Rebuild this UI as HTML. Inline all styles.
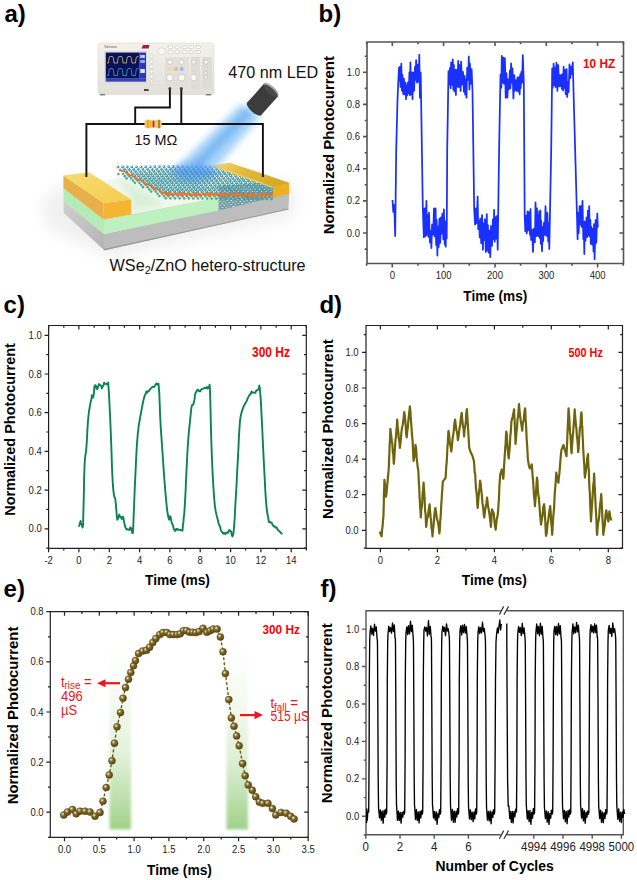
<!DOCTYPE html>
<html><head><meta charset="utf-8"><style>
html,body{margin:0;padding:0;background:#fff;}
svg{display:block;font-family:"Liberation Sans", sans-serif;}
</style></head><body>
<svg width="637" height="880" viewBox="0 0 637 880">
<rect width="637" height="880" fill="#fff"/>
<defs>
<filter id="blur1" x="-30%" y="-30%" width="160%" height="160%"><feGaussianBlur stdDeviation="1"/></filter>
<filter id="blur3" x="-50%" y="-50%" width="200%" height="200%"><feGaussianBlur stdDeviation="3.5"/></filter>
<filter id="blur6" x="-50%" y="-50%" width="200%" height="200%"><feGaussianBlur stdDeviation="7"/></filter>
<linearGradient id="beam" x1="1" y1="0" x2="0" y2="1">
<stop offset="0" stop-color="#4aa0f0" stop-opacity="0.95"/>
<stop offset="0.5" stop-color="#58a8f0" stop-opacity="0.75"/>
<stop offset="1" stop-color="#78c0f8" stop-opacity="0.35"/>
</linearGradient>
<pattern id="latt" width="4.2" height="3.6" patternUnits="userSpaceOnUse" patternTransform="matrix(1 -0.05 0.9 0.5 117 167)">
<rect width="4.2" height="3.6" fill="#8aa8b0"/>
<circle cx="1.1" cy="1" r="1.25" fill="#7fd8e8"/>
<circle cx="3.2" cy="2.8" r="1.25" fill="#5ab8d0"/>
</pattern>
<pattern id="latt2" width="3.6" height="3.2" patternUnits="userSpaceOnUse" patternTransform="matrix(1 -0.1 0.6 0.6 0 0)">
<rect width="3.6" height="3.2" fill="#7a8a90"/>
<circle cx="1" cy="1" r="1.1" fill="#5aa8b8"/>
<circle cx="2.8" cy="2.6" r="0.9" fill="#e8f4f4"/>
</pattern>
<pattern id="dust" width="3" height="3" patternUnits="userSpaceOnUse">
<rect width="3" height="3" fill="#eef8ee"/>
<circle cx="0.8" cy="0.8" r="0.6" fill="#9ed8a8"/>
<circle cx="2.2" cy="2.1" r="0.5" fill="#b8e4c0"/>
</pattern>
<pattern id="gtex" width="2" height="2" patternUnits="userSpaceOnUse">
<rect width="2" height="2" fill="#e2b830"/>
<rect width="1" height="1" fill="#d8a828"/>
</pattern>
<linearGradient id="goldtop" x1="0" y1="0" x2="1" y2="1">
<stop offset="0" stop-color="#f8dc70"/><stop offset="1" stop-color="#f4cc50"/>
</linearGradient>
<linearGradient id="grayL" x1="0" y1="0" x2="1" y2="1">
<stop offset="0" stop-color="#d0d0d0"/><stop offset="1" stop-color="#b4b4b4"/>
</linearGradient>
<linearGradient id="scope" x1="0" y1="0" x2="0" y2="1">
<stop offset="0" stop-color="#f2f1ec"/><stop offset="1" stop-color="#e2e0d8"/>
</linearGradient>
</defs>
<g id="pa">
<!-- shadow -->
<path d="M40 205 L62 182 L104 210 L290 180 L298 200 L292 218 L110 258 L48 228 Z" fill="#dcdcdc" opacity="0.4" filter="url(#blur6)"/>
<!-- gray base -->
<path d="M63.4 200.5 L104 234 L104 250 L63.8 213.1 Z" fill="url(#grayL)"/>
<path d="M104 234 L289.1 194 L288.4 209.4 L104 250 Z" fill="#bdbdbd"/>
<path d="M104 249 L288.4 208.6 L288.4 209.6 L104 250.4Z" fill="#9a9a9a"/>
<!-- green layer -->
<path d="M63.4 188.3 L104 219.3 L104 234 L63.4 200.5 Z" fill="#b4ecb8"/>
<path d="M104 219.3 L218.5 197.3 L218.5 210.6 L104 234 Z" fill="#bef0c0"/>
<path d="M63.4 188.3 L177.9 166.3 L218.5 197.3 L104 219.3 Z" fill="#f2f8f0"/>
<path d="M116 176 L166 204 L132 211 L132 200 Z" fill="#cceccc" opacity="0.7" filter="url(#blur3)"/>
<!-- ZnO balls right part -->
<path d="M218.5 186 L272 182 L288 182 L288 194 L218.5 210.6 Z" fill="url(#latt2)"/>
<clipPath id="lclip"><path d="M108 160 L216 158 L213.7 165.3 L272.9 186.7 L275 212 L160 214 L106 182 Z"/></clipPath>
<g clip-path="url(#lclip)">
<g fill="#40a488" opacity="0.9"><circle cx="118.4" cy="174" r="1.35"/><circle cx="123" cy="174" r="1.35"/><circle cx="127.6" cy="174" r="1.35"/><circle cx="132.2" cy="173.9" r="1.35"/><circle cx="136.8" cy="173.9" r="1.35"/><circle cx="141.4" cy="173.9" r="1.35"/><circle cx="146" cy="173.9" r="1.35"/><circle cx="150.6" cy="173.9" r="1.35"/><circle cx="155.2" cy="173.8" r="1.35"/><circle cx="159.8" cy="173.8" r="1.35"/><circle cx="164.4" cy="173.8" r="1.35"/><circle cx="169" cy="173.8" r="1.35"/><circle cx="173.6" cy="173.8" r="1.35"/><circle cx="178.2" cy="173.7" r="1.35"/><circle cx="182.8" cy="173.7" r="1.35"/><circle cx="187.4" cy="173.7" r="1.35"/><circle cx="192" cy="173.7" r="1.35"/><circle cx="196.6" cy="173.7" r="1.35"/><circle cx="201.2" cy="173.6" r="1.35"/><circle cx="205.8" cy="173.6" r="1.35"/><circle cx="210.4" cy="173.6" r="1.35"/><circle cx="215" cy="173.6" r="1.35"/><circle cx="219.6" cy="173.6" r="1.35"/><circle cx="224.2" cy="173.5" r="1.35"/><circle cx="228.8" cy="173.5" r="1.35"/><circle cx="233.4" cy="173.5" r="1.35"/><circle cx="238" cy="173.5" r="1.35"/><circle cx="242.6" cy="173.5" r="1.35"/><circle cx="247.2" cy="173.4" r="1.35"/><circle cx="251.8" cy="173.4" r="1.35"/><circle cx="256.4" cy="173.4" r="1.35"/><circle cx="261" cy="173.4" r="1.35"/><circle cx="265.6" cy="173.4" r="1.35"/><circle cx="270.2" cy="173.3" r="1.35"/><circle cx="124.8" cy="176.2" r="1.35"/><circle cx="129.4" cy="176.2" r="1.35"/><circle cx="134" cy="176.2" r="1.35"/><circle cx="138.6" cy="176.1" r="1.35"/><circle cx="143.2" cy="176.1" r="1.35"/><circle cx="147.8" cy="176.1" r="1.35"/><circle cx="152.4" cy="176.1" r="1.35"/><circle cx="157" cy="176.1" r="1.35"/><circle cx="161.6" cy="176.1" r="1.35"/><circle cx="166.2" cy="176.1" r="1.35"/><circle cx="170.8" cy="176" r="1.35"/><circle cx="175.4" cy="176" r="1.35"/><circle cx="180" cy="176" r="1.35"/><circle cx="184.6" cy="176" r="1.35"/><circle cx="189.2" cy="176" r="1.35"/><circle cx="193.8" cy="176" r="1.35"/><circle cx="198.4" cy="176" r="1.35"/><circle cx="203" cy="175.9" r="1.35"/><circle cx="207.6" cy="175.9" r="1.35"/><circle cx="212.2" cy="175.9" r="1.35"/><circle cx="216.8" cy="175.9" r="1.35"/><circle cx="221.4" cy="175.9" r="1.35"/><circle cx="226" cy="175.9" r="1.35"/><circle cx="230.6" cy="175.9" r="1.35"/><circle cx="235.2" cy="175.8" r="1.35"/><circle cx="239.8" cy="175.8" r="1.35"/><circle cx="244.4" cy="175.8" r="1.35"/><circle cx="249" cy="175.8" r="1.35"/><circle cx="253.6" cy="175.8" r="1.35"/><circle cx="258.2" cy="175.8" r="1.35"/><circle cx="262.8" cy="175.8" r="1.35"/><circle cx="267.4" cy="175.7" r="1.35"/><circle cx="272" cy="175.7" r="1.35"/><circle cx="276.6" cy="175.7" r="1.35"/><circle cx="126.6" cy="178.4" r="1.35"/><circle cx="131.2" cy="178.4" r="1.35"/><circle cx="135.8" cy="178.4" r="1.35"/><circle cx="140.4" cy="178.4" r="1.35"/><circle cx="145" cy="178.4" r="1.35"/><circle cx="149.6" cy="178.4" r="1.35"/><circle cx="154.2" cy="178.3" r="1.35"/><circle cx="158.8" cy="178.3" r="1.35"/><circle cx="163.4" cy="178.3" r="1.35"/><circle cx="168" cy="178.3" r="1.35"/><circle cx="172.6" cy="178.3" r="1.35"/><circle cx="177.2" cy="178.3" r="1.35"/><circle cx="181.8" cy="178.3" r="1.35"/><circle cx="186.4" cy="178.3" r="1.35"/><circle cx="191" cy="178.3" r="1.35"/><circle cx="195.6" cy="178.3" r="1.35"/><circle cx="200.2" cy="178.3" r="1.35"/><circle cx="204.8" cy="178.2" r="1.35"/><circle cx="209.4" cy="178.2" r="1.35"/><circle cx="214" cy="178.2" r="1.35"/><circle cx="218.6" cy="178.2" r="1.35"/><circle cx="223.2" cy="178.2" r="1.35"/><circle cx="227.8" cy="178.2" r="1.35"/><circle cx="232.4" cy="178.2" r="1.35"/><circle cx="237" cy="178.2" r="1.35"/><circle cx="241.6" cy="178.2" r="1.35"/><circle cx="246.2" cy="178.2" r="1.35"/><circle cx="250.8" cy="178.2" r="1.35"/><circle cx="255.4" cy="178.1" r="1.35"/><circle cx="260" cy="178.1" r="1.35"/><circle cx="264.6" cy="178.1" r="1.35"/><circle cx="269.2" cy="178.1" r="1.35"/><circle cx="273.8" cy="178.1" r="1.35"/><circle cx="278.4" cy="178.1" r="1.35"/><circle cx="133" cy="180.6" r="1.35"/><circle cx="137.6" cy="180.6" r="1.35"/><circle cx="142.2" cy="180.6" r="1.35"/><circle cx="146.8" cy="180.6" r="1.35"/><circle cx="151.4" cy="180.6" r="1.35"/><circle cx="156" cy="180.6" r="1.35"/><circle cx="160.6" cy="180.6" r="1.35"/><circle cx="165.2" cy="180.6" r="1.35"/><circle cx="169.8" cy="180.6" r="1.35"/><circle cx="174.4" cy="180.6" r="1.35"/><circle cx="179" cy="180.6" r="1.35"/><circle cx="183.6" cy="180.6" r="1.35"/><circle cx="188.2" cy="180.6" r="1.35"/><circle cx="192.8" cy="180.6" r="1.35"/><circle cx="197.4" cy="180.5" r="1.35"/><circle cx="202" cy="180.5" r="1.35"/><circle cx="206.6" cy="180.5" r="1.35"/><circle cx="211.2" cy="180.5" r="1.35"/><circle cx="215.8" cy="180.5" r="1.35"/><circle cx="220.4" cy="180.5" r="1.35"/><circle cx="225" cy="180.5" r="1.35"/><circle cx="229.6" cy="180.5" r="1.35"/><circle cx="234.2" cy="180.5" r="1.35"/><circle cx="238.8" cy="180.5" r="1.35"/><circle cx="243.4" cy="180.5" r="1.35"/><circle cx="248" cy="180.5" r="1.35"/><circle cx="252.6" cy="180.5" r="1.35"/><circle cx="257.2" cy="180.5" r="1.35"/><circle cx="261.8" cy="180.5" r="1.35"/><circle cx="266.4" cy="180.5" r="1.35"/><circle cx="271" cy="180.5" r="1.35"/><circle cx="275.6" cy="180.5" r="1.35"/><circle cx="280.2" cy="180.5" r="1.35"/><circle cx="284.8" cy="180.5" r="1.35"/><circle cx="134.8" cy="182.8" r="1.35"/><circle cx="139.4" cy="182.8" r="1.35"/><circle cx="144" cy="182.8" r="1.35"/><circle cx="148.6" cy="182.8" r="1.35"/><circle cx="153.2" cy="182.8" r="1.35"/><circle cx="157.8" cy="182.8" r="1.35"/><circle cx="162.4" cy="182.8" r="1.35"/><circle cx="167" cy="182.8" r="1.35"/><circle cx="171.6" cy="182.8" r="1.35"/><circle cx="176.2" cy="182.8" r="1.35"/><circle cx="180.8" cy="182.8" r="1.35"/><circle cx="185.4" cy="182.8" r="1.35"/><circle cx="190" cy="182.8" r="1.35"/><circle cx="194.6" cy="182.8" r="1.35"/><circle cx="199.2" cy="182.8" r="1.35"/><circle cx="203.8" cy="182.8" r="1.35"/><circle cx="208.4" cy="182.8" r="1.35"/><circle cx="213" cy="182.8" r="1.35"/><circle cx="217.6" cy="182.8" r="1.35"/><circle cx="222.2" cy="182.8" r="1.35"/><circle cx="226.8" cy="182.8" r="1.35"/><circle cx="231.4" cy="182.8" r="1.35"/><circle cx="236" cy="182.8" r="1.35"/><circle cx="240.6" cy="182.8" r="1.35"/><circle cx="245.2" cy="182.8" r="1.35"/><circle cx="249.8" cy="182.8" r="1.35"/><circle cx="254.4" cy="182.8" r="1.35"/><circle cx="259" cy="182.8" r="1.35"/><circle cx="263.6" cy="182.9" r="1.35"/><circle cx="268.2" cy="182.9" r="1.35"/><circle cx="272.8" cy="182.9" r="1.35"/><circle cx="277.4" cy="182.9" r="1.35"/><circle cx="282" cy="182.9" r="1.35"/><circle cx="286.6" cy="182.9" r="1.35"/><circle cx="141.2" cy="185" r="1.35"/><circle cx="145.8" cy="185" r="1.35"/><circle cx="150.4" cy="185" r="1.35"/><circle cx="155" cy="185" r="1.35"/><circle cx="159.6" cy="185" r="1.35"/><circle cx="164.2" cy="185" r="1.35"/><circle cx="168.8" cy="185" r="1.35"/><circle cx="173.4" cy="185.1" r="1.35"/><circle cx="178" cy="185.1" r="1.35"/><circle cx="182.6" cy="185.1" r="1.35"/><circle cx="187.2" cy="185.1" r="1.35"/><circle cx="191.8" cy="185.1" r="1.35"/><circle cx="196.4" cy="185.1" r="1.35"/><circle cx="201" cy="185.1" r="1.35"/><circle cx="205.6" cy="185.1" r="1.35"/><circle cx="210.2" cy="185.1" r="1.35"/><circle cx="214.8" cy="185.1" r="1.35"/><circle cx="219.4" cy="185.1" r="1.35"/><circle cx="224" cy="185.1" r="1.35"/><circle cx="228.6" cy="185.1" r="1.35"/><circle cx="233.2" cy="185.1" r="1.35"/><circle cx="237.8" cy="185.2" r="1.35"/><circle cx="242.4" cy="185.2" r="1.35"/><circle cx="247" cy="185.2" r="1.35"/><circle cx="251.6" cy="185.2" r="1.35"/><circle cx="256.2" cy="185.2" r="1.35"/><circle cx="260.8" cy="185.2" r="1.35"/><circle cx="265.4" cy="185.2" r="1.35"/><circle cx="270" cy="185.2" r="1.35"/><circle cx="274.6" cy="185.2" r="1.35"/><circle cx="279.2" cy="185.2" r="1.35"/><circle cx="283.8" cy="185.2" r="1.35"/><circle cx="288.4" cy="185.2" r="1.35"/><circle cx="293" cy="185.2" r="1.35"/><circle cx="143" cy="187.2" r="1.35"/><circle cx="147.6" cy="187.2" r="1.35"/><circle cx="152.2" cy="187.2" r="1.35"/><circle cx="156.8" cy="187.2" r="1.35"/><circle cx="161.4" cy="187.3" r="1.35"/><circle cx="166" cy="187.3" r="1.35"/><circle cx="170.6" cy="187.3" r="1.35"/><circle cx="175.2" cy="187.3" r="1.35"/><circle cx="179.8" cy="187.3" r="1.35"/><circle cx="184.4" cy="187.3" r="1.35"/><circle cx="189" cy="187.3" r="1.35"/><circle cx="193.6" cy="187.3" r="1.35"/><circle cx="198.2" cy="187.4" r="1.35"/><circle cx="202.8" cy="187.4" r="1.35"/><circle cx="207.4" cy="187.4" r="1.35"/><circle cx="212" cy="187.4" r="1.35"/><circle cx="216.6" cy="187.4" r="1.35"/><circle cx="221.2" cy="187.4" r="1.35"/><circle cx="225.8" cy="187.4" r="1.35"/><circle cx="230.4" cy="187.4" r="1.35"/><circle cx="235" cy="187.5" r="1.35"/><circle cx="239.6" cy="187.5" r="1.35"/><circle cx="244.2" cy="187.5" r="1.35"/><circle cx="248.8" cy="187.5" r="1.35"/><circle cx="253.4" cy="187.5" r="1.35"/><circle cx="258" cy="187.5" r="1.35"/><circle cx="262.6" cy="187.5" r="1.35"/><circle cx="267.2" cy="187.5" r="1.35"/><circle cx="271.8" cy="187.6" r="1.35"/><circle cx="276.4" cy="187.6" r="1.35"/><circle cx="281" cy="187.6" r="1.35"/><circle cx="285.6" cy="187.6" r="1.35"/><circle cx="290.2" cy="187.6" r="1.35"/><circle cx="294.8" cy="187.6" r="1.35"/><circle cx="149.4" cy="189.4" r="1.35"/><circle cx="154" cy="189.4" r="1.35"/><circle cx="158.6" cy="189.4" r="1.35"/><circle cx="163.2" cy="189.5" r="1.35"/><circle cx="167.8" cy="189.5" r="1.35"/><circle cx="172.4" cy="189.5" r="1.35"/><circle cx="177" cy="189.5" r="1.35"/><circle cx="181.6" cy="189.5" r="1.35"/><circle cx="186.2" cy="189.6" r="1.35"/><circle cx="190.8" cy="189.6" r="1.35"/><circle cx="195.4" cy="189.6" r="1.35"/><circle cx="200" cy="189.6" r="1.35"/><circle cx="204.6" cy="189.6" r="1.35"/><circle cx="209.2" cy="189.6" r="1.35"/><circle cx="213.8" cy="189.7" r="1.35"/><circle cx="218.4" cy="189.7" r="1.35"/><circle cx="223" cy="189.7" r="1.35"/><circle cx="227.6" cy="189.7" r="1.35"/><circle cx="232.2" cy="189.7" r="1.35"/><circle cx="236.8" cy="189.8" r="1.35"/><circle cx="241.4" cy="189.8" r="1.35"/><circle cx="246" cy="189.8" r="1.35"/><circle cx="250.6" cy="189.8" r="1.35"/><circle cx="255.2" cy="189.8" r="1.35"/><circle cx="259.8" cy="189.8" r="1.35"/><circle cx="264.4" cy="189.9" r="1.35"/><circle cx="269" cy="189.9" r="1.35"/><circle cx="273.6" cy="189.9" r="1.35"/><circle cx="278.2" cy="189.9" r="1.35"/><circle cx="282.8" cy="189.9" r="1.35"/><circle cx="287.4" cy="190" r="1.35"/><circle cx="292" cy="190" r="1.35"/><circle cx="296.6" cy="190" r="1.35"/><circle cx="301.2" cy="190" r="1.35"/><circle cx="151.2" cy="191.6" r="1.35"/><circle cx="155.8" cy="191.6" r="1.35"/><circle cx="160.4" cy="191.6" r="1.35"/><circle cx="165" cy="191.7" r="1.35"/><circle cx="169.6" cy="191.7" r="1.35"/><circle cx="174.2" cy="191.7" r="1.35"/><circle cx="178.8" cy="191.7" r="1.35"/><circle cx="183.4" cy="191.8" r="1.35"/><circle cx="188" cy="191.8" r="1.35"/><circle cx="192.6" cy="191.8" r="1.35"/><circle cx="197.2" cy="191.8" r="1.35"/><circle cx="201.8" cy="191.9" r="1.35"/><circle cx="206.4" cy="191.9" r="1.35"/><circle cx="211" cy="191.9" r="1.35"/><circle cx="215.6" cy="191.9" r="1.35"/><circle cx="220.2" cy="192" r="1.35"/><circle cx="224.8" cy="192" r="1.35"/><circle cx="229.4" cy="192" r="1.35"/><circle cx="234" cy="192" r="1.35"/><circle cx="238.6" cy="192" r="1.35"/><circle cx="243.2" cy="192.1" r="1.35"/><circle cx="247.8" cy="192.1" r="1.35"/><circle cx="252.4" cy="192.1" r="1.35"/><circle cx="257" cy="192.1" r="1.35"/><circle cx="261.6" cy="192.2" r="1.35"/><circle cx="266.2" cy="192.2" r="1.35"/><circle cx="270.8" cy="192.2" r="1.35"/><circle cx="275.4" cy="192.2" r="1.35"/><circle cx="280" cy="192.3" r="1.35"/><circle cx="284.6" cy="192.3" r="1.35"/><circle cx="289.2" cy="192.3" r="1.35"/><circle cx="293.8" cy="192.3" r="1.35"/><circle cx="298.4" cy="192.4" r="1.35"/><circle cx="303" cy="192.4" r="1.35"/><circle cx="157.6" cy="193.8" r="1.35"/><circle cx="162.2" cy="193.8" r="1.35"/><circle cx="166.8" cy="193.9" r="1.35"/><circle cx="171.4" cy="193.9" r="1.35"/><circle cx="176" cy="193.9" r="1.35"/><circle cx="180.6" cy="194" r="1.35"/><circle cx="185.2" cy="194" r="1.35"/><circle cx="189.8" cy="194" r="1.35"/><circle cx="194.4" cy="194" r="1.35"/><circle cx="199" cy="194.1" r="1.35"/><circle cx="203.6" cy="194.1" r="1.35"/><circle cx="208.2" cy="194.1" r="1.35"/><circle cx="212.8" cy="194.2" r="1.35"/><circle cx="217.4" cy="194.2" r="1.35"/><circle cx="222" cy="194.2" r="1.35"/><circle cx="226.6" cy="194.3" r="1.35"/><circle cx="231.2" cy="194.3" r="1.35"/><circle cx="235.8" cy="194.3" r="1.35"/><circle cx="240.4" cy="194.3" r="1.35"/><circle cx="245" cy="194.4" r="1.35"/><circle cx="249.6" cy="194.4" r="1.35"/><circle cx="254.2" cy="194.4" r="1.35"/><circle cx="258.8" cy="194.5" r="1.35"/><circle cx="263.4" cy="194.5" r="1.35"/><circle cx="268" cy="194.5" r="1.35"/><circle cx="272.6" cy="194.5" r="1.35"/><circle cx="277.2" cy="194.6" r="1.35"/><circle cx="281.8" cy="194.6" r="1.35"/><circle cx="286.4" cy="194.6" r="1.35"/><circle cx="291" cy="194.7" r="1.35"/><circle cx="295.6" cy="194.7" r="1.35"/><circle cx="300.2" cy="194.7" r="1.35"/><circle cx="304.8" cy="194.7" r="1.35"/><circle cx="309.4" cy="194.8" r="1.35"/><circle cx="159.4" cy="196" r="1.35"/><circle cx="164" cy="196" r="1.35"/><circle cx="168.6" cy="196.1" r="1.35"/><circle cx="173.2" cy="196.1" r="1.35"/><circle cx="177.8" cy="196.1" r="1.35"/><circle cx="182.4" cy="196.2" r="1.35"/><circle cx="187" cy="196.2" r="1.35"/><circle cx="191.6" cy="196.2" r="1.35"/><circle cx="196.2" cy="196.3" r="1.35"/><circle cx="200.8" cy="196.3" r="1.35"/><circle cx="205.4" cy="196.3" r="1.35"/><circle cx="210" cy="196.4" r="1.35"/><circle cx="214.6" cy="196.4" r="1.35"/><circle cx="219.2" cy="196.4" r="1.35"/><circle cx="223.8" cy="196.5" r="1.35"/><circle cx="228.4" cy="196.5" r="1.35"/><circle cx="233" cy="196.6" r="1.35"/><circle cx="237.6" cy="196.6" r="1.35"/><circle cx="242.2" cy="196.6" r="1.35"/><circle cx="246.8" cy="196.7" r="1.35"/><circle cx="251.4" cy="196.7" r="1.35"/><circle cx="256" cy="196.7" r="1.35"/><circle cx="260.6" cy="196.8" r="1.35"/><circle cx="265.2" cy="196.8" r="1.35"/><circle cx="269.8" cy="196.8" r="1.35"/><circle cx="274.4" cy="196.9" r="1.35"/><circle cx="279" cy="196.9" r="1.35"/><circle cx="283.6" cy="196.9" r="1.35"/><circle cx="288.2" cy="197" r="1.35"/><circle cx="292.8" cy="197" r="1.35"/><circle cx="297.4" cy="197" r="1.35"/><circle cx="302" cy="197.1" r="1.35"/><circle cx="306.6" cy="197.1" r="1.35"/><circle cx="311.2" cy="197.1" r="1.35"/><circle cx="165.8" cy="198.2" r="1.35"/><circle cx="170.4" cy="198.3" r="1.35"/><circle cx="175" cy="198.3" r="1.35"/><circle cx="179.6" cy="198.3" r="1.35"/><circle cx="184.2" cy="198.4" r="1.35"/><circle cx="188.8" cy="198.4" r="1.35"/><circle cx="193.4" cy="198.5" r="1.35"/><circle cx="198" cy="198.5" r="1.35"/><circle cx="202.6" cy="198.5" r="1.35"/><circle cx="207.2" cy="198.6" r="1.35"/><circle cx="211.8" cy="198.6" r="1.35"/><circle cx="216.4" cy="198.7" r="1.35"/><circle cx="221" cy="198.7" r="1.35"/><circle cx="225.6" cy="198.7" r="1.35"/><circle cx="230.2" cy="198.8" r="1.35"/><circle cx="234.8" cy="198.8" r="1.35"/><circle cx="239.4" cy="198.9" r="1.35"/><circle cx="244" cy="198.9" r="1.35"/><circle cx="248.6" cy="198.9" r="1.35"/><circle cx="253.2" cy="199" r="1.35"/><circle cx="257.8" cy="199" r="1.35"/><circle cx="262.4" cy="199.1" r="1.35"/><circle cx="267" cy="199.1" r="1.35"/><circle cx="271.6" cy="199.1" r="1.35"/><circle cx="276.2" cy="199.2" r="1.35"/><circle cx="280.8" cy="199.2" r="1.35"/><circle cx="285.4" cy="199.3" r="1.35"/><circle cx="290" cy="199.3" r="1.35"/><circle cx="294.6" cy="199.3" r="1.35"/><circle cx="299.2" cy="199.4" r="1.35"/><circle cx="303.8" cy="199.4" r="1.35"/><circle cx="308.4" cy="199.5" r="1.35"/><circle cx="313" cy="199.5" r="1.35"/><circle cx="317.6" cy="199.5" r="1.35"/></g>
<path d="M167.7 193.3L172.3 195.2L176.9 193.4L181.5 195.2L186.1 193.5L190.7 195.3L195.3 193.6L199.9 195.4L204.5 193.6L209.1 195.5L213.7 193.7L218.3 195.6L222.9 193.8L227.5 195.6L232.1 193.9L236.7 195.7L241.3 194L245.9 195.8L250.5 194L255.1 195.9L259.7 194.1L264.3 196L268.9 194.2L273.5 196L278.1 194.3L282.7 196.1L287.3 194.4L291.9 196.2L296.5 194.4L301.1 196.3L305.7 194.5L310.3 196.4L314.9 194.6L319.5 196.4M119.6 170L126 172.2L127.8 174.4L134.2 176.6L136 178.8L142.4 181L144.2 183.2L150.6 185.4L152.4 187.6L158.8 189.8L160.6 192L167 194.2" stroke="#e06a2a" stroke-width="1.6" fill="none"/>
<g fill="#ec7430"><circle cx="120.3" cy="170" r="1.5"/><circle cx="124.9" cy="170" r="1.0"/><circle cx="129.5" cy="170" r="1.0"/><circle cx="134.1" cy="169.9" r="1.0"/><circle cx="138.7" cy="169.9" r="1.0"/><circle cx="143.3" cy="169.9" r="1.0"/><circle cx="147.9" cy="169.9" r="1.0"/><circle cx="152.5" cy="169.9" r="1.0"/><circle cx="157.1" cy="169.8" r="1.0"/><circle cx="161.7" cy="169.8" r="1.0"/><circle cx="166.3" cy="169.8" r="1.0"/><circle cx="170.9" cy="169.8" r="1.0"/><circle cx="175.5" cy="169.8" r="1.0"/><circle cx="180.1" cy="169.7" r="1.0"/><circle cx="184.7" cy="169.7" r="1.0"/><circle cx="189.3" cy="169.7" r="1.0"/><circle cx="193.9" cy="169.7" r="1.0"/><circle cx="198.5" cy="169.7" r="1.0"/><circle cx="203.1" cy="169.6" r="1.0"/><circle cx="207.7" cy="169.6" r="1.0"/><circle cx="212.3" cy="169.6" r="1.0"/><circle cx="216.9" cy="169.6" r="1.0"/><circle cx="221.5" cy="169.6" r="1.0"/><circle cx="226.1" cy="169.5" r="1.0"/><circle cx="230.7" cy="169.5" r="1.0"/><circle cx="235.3" cy="169.5" r="1.0"/><circle cx="239.9" cy="169.5" r="1.0"/><circle cx="244.5" cy="169.5" r="1.0"/><circle cx="249.1" cy="169.4" r="1.0"/><circle cx="253.7" cy="169.4" r="1.0"/><circle cx="258.3" cy="169.4" r="1.0"/><circle cx="262.9" cy="169.4" r="1.0"/><circle cx="267.5" cy="169.4" r="1.0"/><circle cx="272.1" cy="169.3" r="1.0"/><circle cx="126.7" cy="172.2" r="1.5"/><circle cx="131.3" cy="172.2" r="1.0"/><circle cx="135.9" cy="172.2" r="1.0"/><circle cx="140.5" cy="172.1" r="1.0"/><circle cx="145.1" cy="172.1" r="1.0"/><circle cx="149.7" cy="172.1" r="1.0"/><circle cx="154.3" cy="172.1" r="1.0"/><circle cx="158.9" cy="172.1" r="1.0"/><circle cx="163.5" cy="172.1" r="1.0"/><circle cx="168.1" cy="172.1" r="1.0"/><circle cx="172.7" cy="172" r="1.0"/><circle cx="177.3" cy="172" r="1.0"/><circle cx="181.9" cy="172" r="1.0"/><circle cx="186.5" cy="172" r="1.0"/><circle cx="191.1" cy="172" r="1.0"/><circle cx="195.7" cy="172" r="1.0"/><circle cx="200.3" cy="172" r="1.0"/><circle cx="204.9" cy="171.9" r="1.0"/><circle cx="209.5" cy="171.9" r="1.0"/><circle cx="214.1" cy="171.9" r="1.0"/><circle cx="218.7" cy="171.9" r="1.0"/><circle cx="223.3" cy="171.9" r="1.0"/><circle cx="227.9" cy="171.9" r="1.0"/><circle cx="232.5" cy="171.9" r="1.0"/><circle cx="237.1" cy="171.8" r="1.0"/><circle cx="241.7" cy="171.8" r="1.0"/><circle cx="246.3" cy="171.8" r="1.0"/><circle cx="250.9" cy="171.8" r="1.0"/><circle cx="255.5" cy="171.8" r="1.0"/><circle cx="260.1" cy="171.8" r="1.0"/><circle cx="264.7" cy="171.8" r="1.0"/><circle cx="269.3" cy="171.7" r="1.0"/><circle cx="273.9" cy="171.7" r="1.0"/><circle cx="278.5" cy="171.7" r="1.0"/><circle cx="128.5" cy="174.4" r="1.5"/><circle cx="133.1" cy="174.4" r="1.0"/><circle cx="137.7" cy="174.4" r="1.0"/><circle cx="142.3" cy="174.4" r="1.0"/><circle cx="146.9" cy="174.4" r="1.0"/><circle cx="151.5" cy="174.4" r="1.0"/><circle cx="156.1" cy="174.3" r="1.0"/><circle cx="160.7" cy="174.3" r="1.0"/><circle cx="165.3" cy="174.3" r="1.0"/><circle cx="169.9" cy="174.3" r="1.0"/><circle cx="174.5" cy="174.3" r="1.0"/><circle cx="179.1" cy="174.3" r="1.0"/><circle cx="183.7" cy="174.3" r="1.0"/><circle cx="188.3" cy="174.3" r="1.0"/><circle cx="192.9" cy="174.3" r="1.0"/><circle cx="197.5" cy="174.3" r="1.0"/><circle cx="202.1" cy="174.3" r="1.0"/><circle cx="206.7" cy="174.2" r="1.0"/><circle cx="211.3" cy="174.2" r="1.0"/><circle cx="215.9" cy="174.2" r="1.0"/><circle cx="220.5" cy="174.2" r="1.0"/><circle cx="225.1" cy="174.2" r="1.0"/><circle cx="229.7" cy="174.2" r="1.0"/><circle cx="234.3" cy="174.2" r="1.0"/><circle cx="238.9" cy="174.2" r="1.0"/><circle cx="243.5" cy="174.2" r="1.0"/><circle cx="248.1" cy="174.2" r="1.0"/><circle cx="252.7" cy="174.2" r="1.0"/><circle cx="257.3" cy="174.1" r="1.0"/><circle cx="261.9" cy="174.1" r="1.0"/><circle cx="266.5" cy="174.1" r="1.0"/><circle cx="271.1" cy="174.1" r="1.0"/><circle cx="275.7" cy="174.1" r="1.0"/><circle cx="280.3" cy="174.1" r="1.0"/><circle cx="134.9" cy="176.6" r="1.5"/><circle cx="139.5" cy="176.6" r="1.0"/><circle cx="144.1" cy="176.6" r="1.0"/><circle cx="148.7" cy="176.6" r="1.0"/><circle cx="153.3" cy="176.6" r="1.0"/><circle cx="157.9" cy="176.6" r="1.0"/><circle cx="162.5" cy="176.6" r="1.0"/><circle cx="167.1" cy="176.6" r="1.0"/><circle cx="171.7" cy="176.6" r="1.0"/><circle cx="176.3" cy="176.6" r="1.0"/><circle cx="180.9" cy="176.6" r="1.0"/><circle cx="185.5" cy="176.6" r="1.0"/><circle cx="190.1" cy="176.6" r="1.0"/><circle cx="194.7" cy="176.6" r="1.0"/><circle cx="199.3" cy="176.5" r="1.0"/><circle cx="203.9" cy="176.5" r="1.0"/><circle cx="208.5" cy="176.5" r="1.0"/><circle cx="213.1" cy="176.5" r="1.0"/><circle cx="217.7" cy="176.5" r="1.0"/><circle cx="222.3" cy="176.5" r="1.0"/><circle cx="226.9" cy="176.5" r="1.0"/><circle cx="231.5" cy="176.5" r="1.0"/><circle cx="236.1" cy="176.5" r="1.0"/><circle cx="240.7" cy="176.5" r="1.0"/><circle cx="245.3" cy="176.5" r="1.0"/><circle cx="249.9" cy="176.5" r="1.0"/><circle cx="254.5" cy="176.5" r="1.0"/><circle cx="259.1" cy="176.5" r="1.0"/><circle cx="263.7" cy="176.5" r="1.0"/><circle cx="268.3" cy="176.5" r="1.0"/><circle cx="272.9" cy="176.5" r="1.0"/><circle cx="277.5" cy="176.5" r="1.0"/><circle cx="282.1" cy="176.5" r="1.0"/><circle cx="286.7" cy="176.5" r="1.0"/><circle cx="136.7" cy="178.8" r="1.5"/><circle cx="141.3" cy="178.8" r="1.0"/><circle cx="145.9" cy="178.8" r="1.0"/><circle cx="150.5" cy="178.8" r="1.0"/><circle cx="155.1" cy="178.8" r="1.0"/><circle cx="159.7" cy="178.8" r="1.0"/><circle cx="164.3" cy="178.8" r="1.0"/><circle cx="168.9" cy="178.8" r="1.0"/><circle cx="173.5" cy="178.8" r="1.0"/><circle cx="178.1" cy="178.8" r="1.0"/><circle cx="182.7" cy="178.8" r="1.0"/><circle cx="187.3" cy="178.8" r="1.0"/><circle cx="191.9" cy="178.8" r="1.0"/><circle cx="196.5" cy="178.8" r="1.0"/><circle cx="201.1" cy="178.8" r="1.0"/><circle cx="205.7" cy="178.8" r="1.0"/><circle cx="210.3" cy="178.8" r="1.0"/><circle cx="214.9" cy="178.8" r="1.0"/><circle cx="219.5" cy="178.8" r="1.0"/><circle cx="224.1" cy="178.8" r="1.0"/><circle cx="228.7" cy="178.8" r="1.0"/><circle cx="233.3" cy="178.8" r="1.0"/><circle cx="237.9" cy="178.8" r="1.0"/><circle cx="242.5" cy="178.8" r="1.0"/><circle cx="247.1" cy="178.8" r="1.0"/><circle cx="251.7" cy="178.8" r="1.0"/><circle cx="256.3" cy="178.8" r="1.0"/><circle cx="260.9" cy="178.8" r="1.0"/><circle cx="265.5" cy="178.9" r="1.0"/><circle cx="270.1" cy="178.9" r="1.0"/><circle cx="274.7" cy="178.9" r="1.0"/><circle cx="279.3" cy="178.9" r="1.0"/><circle cx="283.9" cy="178.9" r="1.0"/><circle cx="288.5" cy="178.9" r="1.0"/><circle cx="143.1" cy="181" r="1.5"/><circle cx="147.7" cy="181" r="1.0"/><circle cx="152.3" cy="181" r="1.0"/><circle cx="156.9" cy="181" r="1.0"/><circle cx="161.5" cy="181" r="1.0"/><circle cx="166.1" cy="181" r="1.0"/><circle cx="170.7" cy="181" r="1.0"/><circle cx="175.3" cy="181.1" r="1.0"/><circle cx="179.9" cy="181.1" r="1.0"/><circle cx="184.5" cy="181.1" r="1.0"/><circle cx="189.1" cy="181.1" r="1.0"/><circle cx="193.7" cy="181.1" r="1.0"/><circle cx="198.3" cy="181.1" r="1.0"/><circle cx="202.9" cy="181.1" r="1.0"/><circle cx="207.5" cy="181.1" r="1.0"/><circle cx="212.1" cy="181.1" r="1.0"/><circle cx="216.7" cy="181.1" r="1.0"/><circle cx="221.3" cy="181.1" r="1.0"/><circle cx="225.9" cy="181.1" r="1.0"/><circle cx="230.5" cy="181.1" r="1.0"/><circle cx="235.1" cy="181.1" r="1.0"/><circle cx="239.7" cy="181.2" r="1.0"/><circle cx="244.3" cy="181.2" r="1.0"/><circle cx="248.9" cy="181.2" r="1.0"/><circle cx="253.5" cy="181.2" r="1.0"/><circle cx="258.1" cy="181.2" r="1.0"/><circle cx="262.7" cy="181.2" r="1.0"/><circle cx="267.3" cy="181.2" r="1.0"/><circle cx="271.9" cy="181.2" r="1.0"/><circle cx="276.5" cy="181.2" r="1.0"/><circle cx="281.1" cy="181.2" r="1.0"/><circle cx="285.7" cy="181.2" r="1.0"/><circle cx="290.3" cy="181.2" r="1.0"/><circle cx="294.9" cy="181.2" r="1.0"/><circle cx="144.9" cy="183.2" r="1.5"/><circle cx="149.5" cy="183.2" r="1.0"/><circle cx="154.1" cy="183.2" r="1.0"/><circle cx="158.7" cy="183.2" r="1.0"/><circle cx="163.3" cy="183.3" r="1.0"/><circle cx="167.9" cy="183.3" r="1.0"/><circle cx="172.5" cy="183.3" r="1.0"/><circle cx="177.1" cy="183.3" r="1.0"/><circle cx="181.7" cy="183.3" r="1.0"/><circle cx="186.3" cy="183.3" r="1.0"/><circle cx="190.9" cy="183.3" r="1.0"/><circle cx="195.5" cy="183.3" r="1.0"/><circle cx="200.1" cy="183.4" r="1.0"/><circle cx="204.7" cy="183.4" r="1.0"/><circle cx="209.3" cy="183.4" r="1.0"/><circle cx="213.9" cy="183.4" r="1.0"/><circle cx="218.5" cy="183.4" r="1.0"/><circle cx="223.1" cy="183.4" r="1.0"/><circle cx="227.7" cy="183.4" r="1.0"/><circle cx="232.3" cy="183.4" r="1.0"/><circle cx="236.9" cy="183.5" r="1.0"/><circle cx="241.5" cy="183.5" r="1.0"/><circle cx="246.1" cy="183.5" r="1.0"/><circle cx="250.7" cy="183.5" r="1.0"/><circle cx="255.3" cy="183.5" r="1.0"/><circle cx="259.9" cy="183.5" r="1.0"/><circle cx="264.5" cy="183.5" r="1.0"/><circle cx="269.1" cy="183.5" r="1.0"/><circle cx="273.7" cy="183.6" r="1.0"/><circle cx="278.3" cy="183.6" r="1.0"/><circle cx="282.9" cy="183.6" r="1.0"/><circle cx="287.5" cy="183.6" r="1.0"/><circle cx="292.1" cy="183.6" r="1.0"/><circle cx="296.7" cy="183.6" r="1.0"/><circle cx="151.3" cy="185.4" r="1.5"/><circle cx="155.9" cy="185.4" r="1.0"/><circle cx="160.5" cy="185.4" r="1.0"/><circle cx="165.1" cy="185.5" r="1.0"/><circle cx="169.7" cy="185.5" r="1.0"/><circle cx="174.3" cy="185.5" r="1.0"/><circle cx="178.9" cy="185.5" r="1.0"/><circle cx="183.5" cy="185.5" r="1.0"/><circle cx="188.1" cy="185.6" r="1.0"/><circle cx="192.7" cy="185.6" r="1.0"/><circle cx="197.3" cy="185.6" r="1.0"/><circle cx="201.9" cy="185.6" r="1.0"/><circle cx="206.5" cy="185.6" r="1.0"/><circle cx="211.1" cy="185.6" r="1.0"/><circle cx="215.7" cy="185.7" r="1.0"/><circle cx="220.3" cy="185.7" r="1.0"/><circle cx="224.9" cy="185.7" r="1.0"/><circle cx="229.5" cy="185.7" r="1.0"/><circle cx="234.1" cy="185.7" r="1.0"/><circle cx="238.7" cy="185.8" r="1.0"/><circle cx="243.3" cy="185.8" r="1.0"/><circle cx="247.9" cy="185.8" r="1.0"/><circle cx="252.5" cy="185.8" r="1.0"/><circle cx="257.1" cy="185.8" r="1.0"/><circle cx="261.7" cy="185.8" r="1.0"/><circle cx="266.3" cy="185.9" r="1.0"/><circle cx="270.9" cy="185.9" r="1.0"/><circle cx="275.5" cy="185.9" r="1.0"/><circle cx="280.1" cy="185.9" r="1.0"/><circle cx="284.7" cy="185.9" r="1.0"/><circle cx="289.3" cy="186" r="1.0"/><circle cx="293.9" cy="186" r="1.0"/><circle cx="298.5" cy="186" r="1.0"/><circle cx="303.1" cy="186" r="1.0"/><circle cx="153.1" cy="187.6" r="1.5"/><circle cx="157.7" cy="187.6" r="1.0"/><circle cx="162.3" cy="187.6" r="1.0"/><circle cx="166.9" cy="187.7" r="1.0"/><circle cx="171.5" cy="187.7" r="1.0"/><circle cx="176.1" cy="187.7" r="1.0"/><circle cx="180.7" cy="187.7" r="1.0"/><circle cx="185.3" cy="187.8" r="1.0"/><circle cx="189.9" cy="187.8" r="1.0"/><circle cx="194.5" cy="187.8" r="1.0"/><circle cx="199.1" cy="187.8" r="1.0"/><circle cx="203.7" cy="187.9" r="1.0"/><circle cx="208.3" cy="187.9" r="1.0"/><circle cx="212.9" cy="187.9" r="1.0"/><circle cx="217.5" cy="187.9" r="1.0"/><circle cx="222.1" cy="188" r="1.0"/><circle cx="226.7" cy="188" r="1.0"/><circle cx="231.3" cy="188" r="1.0"/><circle cx="235.9" cy="188" r="1.0"/><circle cx="240.5" cy="188" r="1.0"/><circle cx="245.1" cy="188.1" r="1.0"/><circle cx="249.7" cy="188.1" r="1.0"/><circle cx="254.3" cy="188.1" r="1.0"/><circle cx="258.9" cy="188.1" r="1.0"/><circle cx="263.5" cy="188.2" r="1.0"/><circle cx="268.1" cy="188.2" r="1.0"/><circle cx="272.7" cy="188.2" r="1.0"/><circle cx="277.3" cy="188.2" r="1.0"/><circle cx="281.9" cy="188.3" r="1.0"/><circle cx="286.5" cy="188.3" r="1.0"/><circle cx="291.1" cy="188.3" r="1.0"/><circle cx="295.7" cy="188.3" r="1.0"/><circle cx="300.3" cy="188.4" r="1.0"/><circle cx="304.9" cy="188.4" r="1.0"/><circle cx="159.5" cy="189.8" r="1.5"/><circle cx="164.1" cy="189.8" r="1.0"/><circle cx="168.7" cy="189.9" r="1.0"/><circle cx="173.3" cy="189.9" r="1.0"/><circle cx="177.9" cy="189.9" r="1.0"/><circle cx="182.5" cy="190" r="1.0"/><circle cx="187.1" cy="190" r="1.0"/><circle cx="191.7" cy="190" r="1.0"/><circle cx="196.3" cy="190" r="1.0"/><circle cx="200.9" cy="190.1" r="1.0"/><circle cx="205.5" cy="190.1" r="1.0"/><circle cx="210.1" cy="190.1" r="1.0"/><circle cx="214.7" cy="190.2" r="1.0"/><circle cx="219.3" cy="190.2" r="1.0"/><circle cx="223.9" cy="190.2" r="1.0"/><circle cx="228.5" cy="190.3" r="1.0"/><circle cx="233.1" cy="190.3" r="1.0"/><circle cx="237.7" cy="190.3" r="1.0"/><circle cx="242.3" cy="190.3" r="1.0"/><circle cx="246.9" cy="190.4" r="1.0"/><circle cx="251.5" cy="190.4" r="1.0"/><circle cx="256.1" cy="190.4" r="1.0"/><circle cx="260.7" cy="190.5" r="1.0"/><circle cx="265.3" cy="190.5" r="1.0"/><circle cx="269.9" cy="190.5" r="1.0"/><circle cx="274.5" cy="190.5" r="1.0"/><circle cx="279.1" cy="190.6" r="1.0"/><circle cx="283.7" cy="190.6" r="1.0"/><circle cx="288.3" cy="190.6" r="1.0"/><circle cx="292.9" cy="190.7" r="1.0"/><circle cx="297.5" cy="190.7" r="1.0"/><circle cx="302.1" cy="190.7" r="1.0"/><circle cx="306.7" cy="190.7" r="1.0"/><circle cx="311.3" cy="190.8" r="1.0"/><circle cx="161.3" cy="192" r="1.5"/><circle cx="165.9" cy="192" r="1.0"/><circle cx="170.5" cy="192.1" r="1.0"/><circle cx="175.1" cy="192.1" r="1.0"/><circle cx="179.7" cy="192.1" r="1.0"/><circle cx="184.3" cy="192.2" r="1.0"/><circle cx="188.9" cy="192.2" r="1.0"/><circle cx="193.5" cy="192.2" r="1.0"/><circle cx="198.1" cy="192.3" r="1.0"/><circle cx="202.7" cy="192.3" r="1.0"/><circle cx="207.3" cy="192.3" r="1.0"/><circle cx="211.9" cy="192.4" r="1.0"/><circle cx="216.5" cy="192.4" r="1.0"/><circle cx="221.1" cy="192.4" r="1.0"/><circle cx="225.7" cy="192.5" r="1.0"/><circle cx="230.3" cy="192.5" r="1.0"/><circle cx="234.9" cy="192.6" r="1.0"/><circle cx="239.5" cy="192.6" r="1.0"/><circle cx="244.1" cy="192.6" r="1.0"/><circle cx="248.7" cy="192.7" r="1.0"/><circle cx="253.3" cy="192.7" r="1.0"/><circle cx="257.9" cy="192.7" r="1.0"/><circle cx="262.5" cy="192.8" r="1.0"/><circle cx="267.1" cy="192.8" r="1.0"/><circle cx="271.7" cy="192.8" r="1.0"/><circle cx="276.3" cy="192.9" r="1.0"/><circle cx="280.9" cy="192.9" r="1.0"/><circle cx="285.5" cy="192.9" r="1.0"/><circle cx="290.1" cy="193" r="1.0"/><circle cx="294.7" cy="193" r="1.0"/><circle cx="299.3" cy="193" r="1.0"/><circle cx="303.9" cy="193.1" r="1.0"/><circle cx="308.5" cy="193.1" r="1.0"/><circle cx="313.1" cy="193.1" r="1.0"/><circle cx="167.7" cy="194.2" r="2.3"/><circle cx="172.3" cy="194.3" r="1.5"/><circle cx="176.9" cy="194.3" r="1.5"/><circle cx="181.5" cy="194.3" r="2.3"/><circle cx="186.1" cy="194.4" r="1.5"/><circle cx="190.7" cy="194.4" r="1.5"/><circle cx="195.3" cy="194.5" r="2.3"/><circle cx="199.9" cy="194.5" r="1.5"/><circle cx="204.5" cy="194.5" r="1.5"/><circle cx="209.1" cy="194.6" r="2.3"/><circle cx="213.7" cy="194.6" r="1.5"/><circle cx="218.3" cy="194.7" r="1.5"/><circle cx="222.9" cy="194.7" r="2.3"/><circle cx="227.5" cy="194.7" r="1.5"/><circle cx="232.1" cy="194.8" r="1.5"/><circle cx="236.7" cy="194.8" r="2.3"/><circle cx="241.3" cy="194.9" r="1.5"/><circle cx="245.9" cy="194.9" r="1.5"/><circle cx="250.5" cy="194.9" r="2.3"/><circle cx="255.1" cy="195" r="1.5"/><circle cx="259.7" cy="195" r="1.5"/><circle cx="264.3" cy="195.1" r="2.3"/><circle cx="268.9" cy="195.1" r="1.5"/><circle cx="273.5" cy="195.1" r="1.5"/><circle cx="278.1" cy="195.2" r="2.3"/><circle cx="282.7" cy="195.2" r="1.5"/><circle cx="287.3" cy="195.3" r="1.5"/><circle cx="291.9" cy="195.3" r="2.3"/><circle cx="296.5" cy="195.3" r="1.5"/><circle cx="301.1" cy="195.4" r="1.5"/><circle cx="305.7" cy="195.4" r="2.3"/><circle cx="310.3" cy="195.5" r="1.5"/><circle cx="314.9" cy="195.5" r="1.5"/><circle cx="319.5" cy="195.5" r="2.3"/></g>
<g fill="#3e9cb0"><circle cx="118" cy="167" r="1.45"/><circle cx="122.6" cy="167" r="1.45"/><circle cx="127.2" cy="167" r="1.45"/><circle cx="131.8" cy="166.9" r="1.45"/><circle cx="136.4" cy="166.9" r="1.45"/><circle cx="141" cy="166.9" r="1.45"/><circle cx="145.6" cy="166.9" r="1.45"/><circle cx="150.2" cy="166.9" r="1.45"/><circle cx="154.8" cy="166.8" r="1.45"/><circle cx="159.4" cy="166.8" r="1.45"/><circle cx="164" cy="166.8" r="1.45"/><circle cx="168.6" cy="166.8" r="1.45"/><circle cx="173.2" cy="166.8" r="1.45"/><circle cx="177.8" cy="166.7" r="1.45"/><circle cx="182.4" cy="166.7" r="1.45"/><circle cx="187" cy="166.7" r="1.45"/><circle cx="191.6" cy="166.7" r="1.45"/><circle cx="196.2" cy="166.7" r="1.45"/><circle cx="200.8" cy="166.6" r="1.45"/><circle cx="205.4" cy="166.6" r="1.45"/><circle cx="210" cy="166.6" r="1.45"/><circle cx="214.6" cy="166.6" r="1.45"/><circle cx="219.2" cy="166.6" r="1.45"/><circle cx="223.8" cy="166.5" r="1.45"/><circle cx="228.4" cy="166.5" r="1.45"/><circle cx="233" cy="166.5" r="1.45"/><circle cx="237.6" cy="166.5" r="1.45"/><circle cx="242.2" cy="166.5" r="1.45"/><circle cx="246.8" cy="166.4" r="1.45"/><circle cx="251.4" cy="166.4" r="1.45"/><circle cx="256" cy="166.4" r="1.45"/><circle cx="260.6" cy="166.4" r="1.45"/><circle cx="265.2" cy="166.4" r="1.45"/><circle cx="269.8" cy="166.3" r="1.45"/><circle cx="124.4" cy="169.2" r="1.45"/><circle cx="129" cy="169.2" r="1.45"/><circle cx="133.6" cy="169.2" r="1.45"/><circle cx="138.2" cy="169.1" r="1.45"/><circle cx="142.8" cy="169.1" r="1.45"/><circle cx="147.4" cy="169.1" r="1.45"/><circle cx="152" cy="169.1" r="1.45"/><circle cx="156.6" cy="169.1" r="1.45"/><circle cx="161.2" cy="169.1" r="1.45"/><circle cx="165.8" cy="169.1" r="1.45"/><circle cx="170.4" cy="169" r="1.45"/><circle cx="175" cy="169" r="1.45"/><circle cx="179.6" cy="169" r="1.45"/><circle cx="184.2" cy="169" r="1.45"/><circle cx="188.8" cy="169" r="1.45"/><circle cx="193.4" cy="169" r="1.45"/><circle cx="198" cy="169" r="1.45"/><circle cx="202.6" cy="168.9" r="1.45"/><circle cx="207.2" cy="168.9" r="1.45"/><circle cx="211.8" cy="168.9" r="1.45"/><circle cx="216.4" cy="168.9" r="1.45"/><circle cx="221" cy="168.9" r="1.45"/><circle cx="225.6" cy="168.9" r="1.45"/><circle cx="230.2" cy="168.9" r="1.45"/><circle cx="234.8" cy="168.8" r="1.45"/><circle cx="239.4" cy="168.8" r="1.45"/><circle cx="244" cy="168.8" r="1.45"/><circle cx="248.6" cy="168.8" r="1.45"/><circle cx="253.2" cy="168.8" r="1.45"/><circle cx="257.8" cy="168.8" r="1.45"/><circle cx="262.4" cy="168.8" r="1.45"/><circle cx="267" cy="168.7" r="1.45"/><circle cx="271.6" cy="168.7" r="1.45"/><circle cx="276.2" cy="168.7" r="1.45"/><circle cx="126.2" cy="171.4" r="1.45"/><circle cx="130.8" cy="171.4" r="1.45"/><circle cx="135.4" cy="171.4" r="1.45"/><circle cx="140" cy="171.4" r="1.45"/><circle cx="144.6" cy="171.4" r="1.45"/><circle cx="149.2" cy="171.4" r="1.45"/><circle cx="153.8" cy="171.3" r="1.45"/><circle cx="158.4" cy="171.3" r="1.45"/><circle cx="163" cy="171.3" r="1.45"/><circle cx="167.6" cy="171.3" r="1.45"/><circle cx="172.2" cy="171.3" r="1.45"/><circle cx="176.8" cy="171.3" r="1.45"/><circle cx="181.4" cy="171.3" r="1.45"/><circle cx="186" cy="171.3" r="1.45"/><circle cx="190.6" cy="171.3" r="1.45"/><circle cx="195.2" cy="171.3" r="1.45"/><circle cx="199.8" cy="171.3" r="1.45"/><circle cx="204.4" cy="171.2" r="1.45"/><circle cx="209" cy="171.2" r="1.45"/><circle cx="213.6" cy="171.2" r="1.45"/><circle cx="218.2" cy="171.2" r="1.45"/><circle cx="222.8" cy="171.2" r="1.45"/><circle cx="227.4" cy="171.2" r="1.45"/><circle cx="232" cy="171.2" r="1.45"/><circle cx="236.6" cy="171.2" r="1.45"/><circle cx="241.2" cy="171.2" r="1.45"/><circle cx="245.8" cy="171.2" r="1.45"/><circle cx="250.4" cy="171.2" r="1.45"/><circle cx="255" cy="171.1" r="1.45"/><circle cx="259.6" cy="171.1" r="1.45"/><circle cx="264.2" cy="171.1" r="1.45"/><circle cx="268.8" cy="171.1" r="1.45"/><circle cx="273.4" cy="171.1" r="1.45"/><circle cx="278" cy="171.1" r="1.45"/><circle cx="132.6" cy="173.6" r="1.45"/><circle cx="137.2" cy="173.6" r="1.45"/><circle cx="141.8" cy="173.6" r="1.45"/><circle cx="146.4" cy="173.6" r="1.45"/><circle cx="151" cy="173.6" r="1.45"/><circle cx="155.6" cy="173.6" r="1.45"/><circle cx="160.2" cy="173.6" r="1.45"/><circle cx="164.8" cy="173.6" r="1.45"/><circle cx="169.4" cy="173.6" r="1.45"/><circle cx="174" cy="173.6" r="1.45"/><circle cx="178.6" cy="173.6" r="1.45"/><circle cx="183.2" cy="173.6" r="1.45"/><circle cx="187.8" cy="173.6" r="1.45"/><circle cx="192.4" cy="173.6" r="1.45"/><circle cx="197" cy="173.5" r="1.45"/><circle cx="201.6" cy="173.5" r="1.45"/><circle cx="206.2" cy="173.5" r="1.45"/><circle cx="210.8" cy="173.5" r="1.45"/><circle cx="215.4" cy="173.5" r="1.45"/><circle cx="220" cy="173.5" r="1.45"/><circle cx="224.6" cy="173.5" r="1.45"/><circle cx="229.2" cy="173.5" r="1.45"/><circle cx="233.8" cy="173.5" r="1.45"/><circle cx="238.4" cy="173.5" r="1.45"/><circle cx="243" cy="173.5" r="1.45"/><circle cx="247.6" cy="173.5" r="1.45"/><circle cx="252.2" cy="173.5" r="1.45"/><circle cx="256.8" cy="173.5" r="1.45"/><circle cx="261.4" cy="173.5" r="1.45"/><circle cx="266" cy="173.5" r="1.45"/><circle cx="270.6" cy="173.5" r="1.45"/><circle cx="275.2" cy="173.5" r="1.45"/><circle cx="279.8" cy="173.5" r="1.45"/><circle cx="284.4" cy="173.5" r="1.45"/><circle cx="134.4" cy="175.8" r="1.45"/><circle cx="139" cy="175.8" r="1.45"/><circle cx="143.6" cy="175.8" r="1.45"/><circle cx="148.2" cy="175.8" r="1.45"/><circle cx="152.8" cy="175.8" r="1.45"/><circle cx="157.4" cy="175.8" r="1.45"/><circle cx="162" cy="175.8" r="1.45"/><circle cx="166.6" cy="175.8" r="1.45"/><circle cx="171.2" cy="175.8" r="1.45"/><circle cx="175.8" cy="175.8" r="1.45"/><circle cx="180.4" cy="175.8" r="1.45"/><circle cx="185" cy="175.8" r="1.45"/><circle cx="189.6" cy="175.8" r="1.45"/><circle cx="194.2" cy="175.8" r="1.45"/><circle cx="198.8" cy="175.8" r="1.45"/><circle cx="203.4" cy="175.8" r="1.45"/><circle cx="208" cy="175.8" r="1.45"/><circle cx="212.6" cy="175.8" r="1.45"/><circle cx="217.2" cy="175.8" r="1.45"/><circle cx="221.8" cy="175.8" r="1.45"/><circle cx="226.4" cy="175.8" r="1.45"/><circle cx="231" cy="175.8" r="1.45"/><circle cx="235.6" cy="175.8" r="1.45"/><circle cx="240.2" cy="175.8" r="1.45"/><circle cx="244.8" cy="175.8" r="1.45"/><circle cx="249.4" cy="175.8" r="1.45"/><circle cx="254" cy="175.8" r="1.45"/><circle cx="258.6" cy="175.8" r="1.45"/><circle cx="263.2" cy="175.9" r="1.45"/><circle cx="267.8" cy="175.9" r="1.45"/><circle cx="272.4" cy="175.9" r="1.45"/><circle cx="277" cy="175.9" r="1.45"/><circle cx="281.6" cy="175.9" r="1.45"/><circle cx="286.2" cy="175.9" r="1.45"/><circle cx="140.8" cy="178" r="1.45"/><circle cx="145.4" cy="178" r="1.45"/><circle cx="150" cy="178" r="1.45"/><circle cx="154.6" cy="178" r="1.45"/><circle cx="159.2" cy="178" r="1.45"/><circle cx="163.8" cy="178" r="1.45"/><circle cx="168.4" cy="178" r="1.45"/><circle cx="173" cy="178.1" r="1.45"/><circle cx="177.6" cy="178.1" r="1.45"/><circle cx="182.2" cy="178.1" r="1.45"/><circle cx="186.8" cy="178.1" r="1.45"/><circle cx="191.4" cy="178.1" r="1.45"/><circle cx="196" cy="178.1" r="1.45"/><circle cx="200.6" cy="178.1" r="1.45"/><circle cx="205.2" cy="178.1" r="1.45"/><circle cx="209.8" cy="178.1" r="1.45"/><circle cx="214.4" cy="178.1" r="1.45"/><circle cx="219" cy="178.1" r="1.45"/><circle cx="223.6" cy="178.1" r="1.45"/><circle cx="228.2" cy="178.1" r="1.45"/><circle cx="232.8" cy="178.1" r="1.45"/><circle cx="237.4" cy="178.2" r="1.45"/><circle cx="242" cy="178.2" r="1.45"/><circle cx="246.6" cy="178.2" r="1.45"/><circle cx="251.2" cy="178.2" r="1.45"/><circle cx="255.8" cy="178.2" r="1.45"/><circle cx="260.4" cy="178.2" r="1.45"/><circle cx="265" cy="178.2" r="1.45"/><circle cx="269.6" cy="178.2" r="1.45"/><circle cx="274.2" cy="178.2" r="1.45"/><circle cx="278.8" cy="178.2" r="1.45"/><circle cx="283.4" cy="178.2" r="1.45"/><circle cx="288" cy="178.2" r="1.45"/><circle cx="292.6" cy="178.2" r="1.45"/><circle cx="142.6" cy="180.2" r="1.45"/><circle cx="147.2" cy="180.2" r="1.45"/><circle cx="151.8" cy="180.2" r="1.45"/><circle cx="156.4" cy="180.2" r="1.45"/><circle cx="161" cy="180.3" r="1.45"/><circle cx="165.6" cy="180.3" r="1.45"/><circle cx="170.2" cy="180.3" r="1.45"/><circle cx="174.8" cy="180.3" r="1.45"/><circle cx="179.4" cy="180.3" r="1.45"/><circle cx="184" cy="180.3" r="1.45"/><circle cx="188.6" cy="180.3" r="1.45"/><circle cx="193.2" cy="180.3" r="1.45"/><circle cx="197.8" cy="180.4" r="1.45"/><circle cx="202.4" cy="180.4" r="1.45"/><circle cx="207" cy="180.4" r="1.45"/><circle cx="211.6" cy="180.4" r="1.45"/><circle cx="216.2" cy="180.4" r="1.45"/><circle cx="220.8" cy="180.4" r="1.45"/><circle cx="225.4" cy="180.4" r="1.45"/><circle cx="230" cy="180.4" r="1.45"/><circle cx="234.6" cy="180.5" r="1.45"/><circle cx="239.2" cy="180.5" r="1.45"/><circle cx="243.8" cy="180.5" r="1.45"/><circle cx="248.4" cy="180.5" r="1.45"/><circle cx="253" cy="180.5" r="1.45"/><circle cx="257.6" cy="180.5" r="1.45"/><circle cx="262.2" cy="180.5" r="1.45"/><circle cx="266.8" cy="180.5" r="1.45"/><circle cx="271.4" cy="180.6" r="1.45"/><circle cx="276" cy="180.6" r="1.45"/><circle cx="280.6" cy="180.6" r="1.45"/><circle cx="285.2" cy="180.6" r="1.45"/><circle cx="289.8" cy="180.6" r="1.45"/><circle cx="294.4" cy="180.6" r="1.45"/><circle cx="149" cy="182.4" r="1.45"/><circle cx="153.6" cy="182.4" r="1.45"/><circle cx="158.2" cy="182.4" r="1.45"/><circle cx="162.8" cy="182.5" r="1.45"/><circle cx="167.4" cy="182.5" r="1.45"/><circle cx="172" cy="182.5" r="1.45"/><circle cx="176.6" cy="182.5" r="1.45"/><circle cx="181.2" cy="182.5" r="1.45"/><circle cx="185.8" cy="182.6" r="1.45"/><circle cx="190.4" cy="182.6" r="1.45"/><circle cx="195" cy="182.6" r="1.45"/><circle cx="199.6" cy="182.6" r="1.45"/><circle cx="204.2" cy="182.6" r="1.45"/><circle cx="208.8" cy="182.6" r="1.45"/><circle cx="213.4" cy="182.7" r="1.45"/><circle cx="218" cy="182.7" r="1.45"/><circle cx="222.6" cy="182.7" r="1.45"/><circle cx="227.2" cy="182.7" r="1.45"/><circle cx="231.8" cy="182.7" r="1.45"/><circle cx="236.4" cy="182.8" r="1.45"/><circle cx="241" cy="182.8" r="1.45"/><circle cx="245.6" cy="182.8" r="1.45"/><circle cx="250.2" cy="182.8" r="1.45"/><circle cx="254.8" cy="182.8" r="1.45"/><circle cx="259.4" cy="182.8" r="1.45"/><circle cx="264" cy="182.9" r="1.45"/><circle cx="268.6" cy="182.9" r="1.45"/><circle cx="273.2" cy="182.9" r="1.45"/><circle cx="277.8" cy="182.9" r="1.45"/><circle cx="282.4" cy="182.9" r="1.45"/><circle cx="287" cy="183" r="1.45"/><circle cx="291.6" cy="183" r="1.45"/><circle cx="296.2" cy="183" r="1.45"/><circle cx="300.8" cy="183" r="1.45"/><circle cx="150.8" cy="184.6" r="1.45"/><circle cx="155.4" cy="184.6" r="1.45"/><circle cx="160" cy="184.6" r="1.45"/><circle cx="164.6" cy="184.7" r="1.45"/><circle cx="169.2" cy="184.7" r="1.45"/><circle cx="173.8" cy="184.7" r="1.45"/><circle cx="178.4" cy="184.7" r="1.45"/><circle cx="183" cy="184.8" r="1.45"/><circle cx="187.6" cy="184.8" r="1.45"/><circle cx="192.2" cy="184.8" r="1.45"/><circle cx="196.8" cy="184.8" r="1.45"/><circle cx="201.4" cy="184.9" r="1.45"/><circle cx="206" cy="184.9" r="1.45"/><circle cx="210.6" cy="184.9" r="1.45"/><circle cx="215.2" cy="184.9" r="1.45"/><circle cx="219.8" cy="185" r="1.45"/><circle cx="224.4" cy="185" r="1.45"/><circle cx="229" cy="185" r="1.45"/><circle cx="233.6" cy="185" r="1.45"/><circle cx="238.2" cy="185" r="1.45"/><circle cx="242.8" cy="185.1" r="1.45"/><circle cx="247.4" cy="185.1" r="1.45"/><circle cx="252" cy="185.1" r="1.45"/><circle cx="256.6" cy="185.1" r="1.45"/><circle cx="261.2" cy="185.2" r="1.45"/><circle cx="265.8" cy="185.2" r="1.45"/><circle cx="270.4" cy="185.2" r="1.45"/><circle cx="275" cy="185.2" r="1.45"/><circle cx="279.6" cy="185.3" r="1.45"/><circle cx="284.2" cy="185.3" r="1.45"/><circle cx="288.8" cy="185.3" r="1.45"/><circle cx="293.4" cy="185.3" r="1.45"/><circle cx="298" cy="185.4" r="1.45"/><circle cx="302.6" cy="185.4" r="1.45"/><circle cx="157.2" cy="186.8" r="1.45"/><circle cx="161.8" cy="186.8" r="1.45"/><circle cx="166.4" cy="186.9" r="1.45"/><circle cx="171" cy="186.9" r="1.45"/><circle cx="175.6" cy="186.9" r="1.45"/><circle cx="180.2" cy="187" r="1.45"/><circle cx="184.8" cy="187" r="1.45"/><circle cx="189.4" cy="187" r="1.45"/><circle cx="194" cy="187" r="1.45"/><circle cx="198.6" cy="187.1" r="1.45"/><circle cx="203.2" cy="187.1" r="1.45"/><circle cx="207.8" cy="187.1" r="1.45"/><circle cx="212.4" cy="187.2" r="1.45"/><circle cx="217" cy="187.2" r="1.45"/><circle cx="221.6" cy="187.2" r="1.45"/><circle cx="226.2" cy="187.3" r="1.45"/><circle cx="230.8" cy="187.3" r="1.45"/><circle cx="235.4" cy="187.3" r="1.45"/><circle cx="240" cy="187.3" r="1.45"/><circle cx="244.6" cy="187.4" r="1.45"/><circle cx="249.2" cy="187.4" r="1.45"/><circle cx="253.8" cy="187.4" r="1.45"/><circle cx="258.4" cy="187.5" r="1.45"/><circle cx="263" cy="187.5" r="1.45"/><circle cx="267.6" cy="187.5" r="1.45"/><circle cx="272.2" cy="187.5" r="1.45"/><circle cx="276.8" cy="187.6" r="1.45"/><circle cx="281.4" cy="187.6" r="1.45"/><circle cx="286" cy="187.6" r="1.45"/><circle cx="290.6" cy="187.7" r="1.45"/><circle cx="295.2" cy="187.7" r="1.45"/><circle cx="299.8" cy="187.7" r="1.45"/><circle cx="304.4" cy="187.7" r="1.45"/><circle cx="309" cy="187.8" r="1.45"/><circle cx="159" cy="189" r="1.45"/><circle cx="163.6" cy="189" r="1.45"/><circle cx="168.2" cy="189.1" r="1.45"/><circle cx="172.8" cy="189.1" r="1.45"/><circle cx="177.4" cy="189.1" r="1.45"/><circle cx="182" cy="189.2" r="1.45"/><circle cx="186.6" cy="189.2" r="1.45"/><circle cx="191.2" cy="189.2" r="1.45"/><circle cx="195.8" cy="189.3" r="1.45"/><circle cx="200.4" cy="189.3" r="1.45"/><circle cx="205" cy="189.3" r="1.45"/><circle cx="209.6" cy="189.4" r="1.45"/><circle cx="214.2" cy="189.4" r="1.45"/><circle cx="218.8" cy="189.4" r="1.45"/><circle cx="223.4" cy="189.5" r="1.45"/><circle cx="228" cy="189.5" r="1.45"/><circle cx="232.6" cy="189.6" r="1.45"/><circle cx="237.2" cy="189.6" r="1.45"/><circle cx="241.8" cy="189.6" r="1.45"/><circle cx="246.4" cy="189.7" r="1.45"/><circle cx="251" cy="189.7" r="1.45"/><circle cx="255.6" cy="189.7" r="1.45"/><circle cx="260.2" cy="189.8" r="1.45"/><circle cx="264.8" cy="189.8" r="1.45"/><circle cx="269.4" cy="189.8" r="1.45"/><circle cx="274" cy="189.9" r="1.45"/><circle cx="278.6" cy="189.9" r="1.45"/><circle cx="283.2" cy="189.9" r="1.45"/><circle cx="287.8" cy="190" r="1.45"/><circle cx="292.4" cy="190" r="1.45"/><circle cx="297" cy="190" r="1.45"/><circle cx="301.6" cy="190.1" r="1.45"/><circle cx="306.2" cy="190.1" r="1.45"/><circle cx="310.8" cy="190.1" r="1.45"/><circle cx="165.4" cy="191.2" r="1.45"/><circle cx="170" cy="191.3" r="1.45"/><circle cx="174.6" cy="191.3" r="1.45"/><circle cx="179.2" cy="191.3" r="1.45"/><circle cx="183.8" cy="191.4" r="1.45"/><circle cx="188.4" cy="191.4" r="1.45"/><circle cx="193" cy="191.5" r="1.45"/><circle cx="197.6" cy="191.5" r="1.45"/><circle cx="202.2" cy="191.5" r="1.45"/><circle cx="206.8" cy="191.6" r="1.45"/><circle cx="211.4" cy="191.6" r="1.45"/><circle cx="216" cy="191.7" r="1.45"/><circle cx="220.6" cy="191.7" r="1.45"/><circle cx="225.2" cy="191.7" r="1.45"/><circle cx="229.8" cy="191.8" r="1.45"/><circle cx="234.4" cy="191.8" r="1.45"/><circle cx="239" cy="191.9" r="1.45"/><circle cx="243.6" cy="191.9" r="1.45"/><circle cx="248.2" cy="191.9" r="1.45"/><circle cx="252.8" cy="192" r="1.45"/><circle cx="257.4" cy="192" r="1.45"/><circle cx="262" cy="192.1" r="1.45"/><circle cx="266.6" cy="192.1" r="1.45"/><circle cx="271.2" cy="192.1" r="1.45"/><circle cx="275.8" cy="192.2" r="1.45"/><circle cx="280.4" cy="192.2" r="1.45"/><circle cx="285" cy="192.3" r="1.45"/><circle cx="289.6" cy="192.3" r="1.45"/><circle cx="294.2" cy="192.3" r="1.45"/><circle cx="298.8" cy="192.4" r="1.45"/><circle cx="303.4" cy="192.4" r="1.45"/><circle cx="308" cy="192.5" r="1.45"/><circle cx="312.6" cy="192.5" r="1.45"/><circle cx="317.2" cy="192.5" r="1.45"/></g>
<g fill="#eafcfd"><circle cx="117.5" cy="166.5" r="0.6"/><circle cx="122.1" cy="166.5" r="0.6"/><circle cx="126.7" cy="166.5" r="0.6"/><circle cx="131.3" cy="166.4" r="0.6"/><circle cx="135.9" cy="166.4" r="0.6"/><circle cx="140.5" cy="166.4" r="0.6"/><circle cx="145.1" cy="166.4" r="0.6"/><circle cx="149.7" cy="166.4" r="0.6"/><circle cx="154.3" cy="166.3" r="0.6"/><circle cx="158.9" cy="166.3" r="0.6"/><circle cx="163.5" cy="166.3" r="0.6"/><circle cx="168.1" cy="166.3" r="0.6"/><circle cx="172.7" cy="166.3" r="0.6"/><circle cx="177.3" cy="166.2" r="0.6"/><circle cx="181.9" cy="166.2" r="0.6"/><circle cx="186.5" cy="166.2" r="0.6"/><circle cx="191.1" cy="166.2" r="0.6"/><circle cx="195.7" cy="166.2" r="0.6"/><circle cx="200.3" cy="166.1" r="0.6"/><circle cx="204.9" cy="166.1" r="0.6"/><circle cx="209.5" cy="166.1" r="0.6"/><circle cx="214.1" cy="166.1" r="0.6"/><circle cx="218.7" cy="166.1" r="0.6"/><circle cx="223.3" cy="166" r="0.6"/><circle cx="227.9" cy="166" r="0.6"/><circle cx="232.5" cy="166" r="0.6"/><circle cx="237.1" cy="166" r="0.6"/><circle cx="241.7" cy="166" r="0.6"/><circle cx="246.3" cy="165.9" r="0.6"/><circle cx="250.9" cy="165.9" r="0.6"/><circle cx="255.5" cy="165.9" r="0.6"/><circle cx="260.1" cy="165.9" r="0.6"/><circle cx="264.7" cy="165.9" r="0.6"/><circle cx="269.3" cy="165.8" r="0.6"/><circle cx="123.9" cy="168.7" r="0.6"/><circle cx="128.5" cy="168.7" r="0.6"/><circle cx="133.1" cy="168.7" r="0.6"/><circle cx="137.7" cy="168.6" r="0.6"/><circle cx="142.3" cy="168.6" r="0.6"/><circle cx="146.9" cy="168.6" r="0.6"/><circle cx="151.5" cy="168.6" r="0.6"/><circle cx="156.1" cy="168.6" r="0.6"/><circle cx="160.7" cy="168.6" r="0.6"/><circle cx="165.3" cy="168.6" r="0.6"/><circle cx="169.9" cy="168.5" r="0.6"/><circle cx="174.5" cy="168.5" r="0.6"/><circle cx="179.1" cy="168.5" r="0.6"/><circle cx="183.7" cy="168.5" r="0.6"/><circle cx="188.3" cy="168.5" r="0.6"/><circle cx="192.9" cy="168.5" r="0.6"/><circle cx="197.5" cy="168.5" r="0.6"/><circle cx="202.1" cy="168.4" r="0.6"/><circle cx="206.7" cy="168.4" r="0.6"/><circle cx="211.3" cy="168.4" r="0.6"/><circle cx="215.9" cy="168.4" r="0.6"/><circle cx="220.5" cy="168.4" r="0.6"/><circle cx="225.1" cy="168.4" r="0.6"/><circle cx="229.7" cy="168.4" r="0.6"/><circle cx="234.3" cy="168.3" r="0.6"/><circle cx="238.9" cy="168.3" r="0.6"/><circle cx="243.5" cy="168.3" r="0.6"/><circle cx="248.1" cy="168.3" r="0.6"/><circle cx="252.7" cy="168.3" r="0.6"/><circle cx="257.3" cy="168.3" r="0.6"/><circle cx="261.9" cy="168.3" r="0.6"/><circle cx="266.5" cy="168.2" r="0.6"/><circle cx="271.1" cy="168.2" r="0.6"/><circle cx="275.7" cy="168.2" r="0.6"/><circle cx="125.7" cy="170.9" r="0.6"/><circle cx="130.3" cy="170.9" r="0.6"/><circle cx="134.9" cy="170.9" r="0.6"/><circle cx="139.5" cy="170.9" r="0.6"/><circle cx="144.1" cy="170.9" r="0.6"/><circle cx="148.7" cy="170.9" r="0.6"/><circle cx="153.3" cy="170.8" r="0.6"/><circle cx="157.9" cy="170.8" r="0.6"/><circle cx="162.5" cy="170.8" r="0.6"/><circle cx="167.1" cy="170.8" r="0.6"/><circle cx="171.7" cy="170.8" r="0.6"/><circle cx="176.3" cy="170.8" r="0.6"/><circle cx="180.9" cy="170.8" r="0.6"/><circle cx="185.5" cy="170.8" r="0.6"/><circle cx="190.1" cy="170.8" r="0.6"/><circle cx="194.7" cy="170.8" r="0.6"/><circle cx="199.3" cy="170.8" r="0.6"/><circle cx="203.9" cy="170.7" r="0.6"/><circle cx="208.5" cy="170.7" r="0.6"/><circle cx="213.1" cy="170.7" r="0.6"/><circle cx="217.7" cy="170.7" r="0.6"/><circle cx="222.3" cy="170.7" r="0.6"/><circle cx="226.9" cy="170.7" r="0.6"/><circle cx="231.5" cy="170.7" r="0.6"/><circle cx="236.1" cy="170.7" r="0.6"/><circle cx="240.7" cy="170.7" r="0.6"/><circle cx="245.3" cy="170.7" r="0.6"/><circle cx="249.9" cy="170.7" r="0.6"/><circle cx="254.5" cy="170.6" r="0.6"/><circle cx="259.1" cy="170.6" r="0.6"/><circle cx="263.7" cy="170.6" r="0.6"/><circle cx="268.3" cy="170.6" r="0.6"/><circle cx="272.9" cy="170.6" r="0.6"/><circle cx="277.5" cy="170.6" r="0.6"/><circle cx="132.1" cy="173.1" r="0.6"/><circle cx="136.7" cy="173.1" r="0.6"/><circle cx="141.3" cy="173.1" r="0.6"/><circle cx="145.9" cy="173.1" r="0.6"/><circle cx="150.5" cy="173.1" r="0.6"/><circle cx="155.1" cy="173.1" r="0.6"/><circle cx="159.7" cy="173.1" r="0.6"/><circle cx="164.3" cy="173.1" r="0.6"/><circle cx="168.9" cy="173.1" r="0.6"/><circle cx="173.5" cy="173.1" r="0.6"/><circle cx="178.1" cy="173.1" r="0.6"/><circle cx="182.7" cy="173.1" r="0.6"/><circle cx="187.3" cy="173.1" r="0.6"/><circle cx="191.9" cy="173.1" r="0.6"/><circle cx="196.5" cy="173" r="0.6"/><circle cx="201.1" cy="173" r="0.6"/><circle cx="205.7" cy="173" r="0.6"/><circle cx="210.3" cy="173" r="0.6"/><circle cx="214.9" cy="173" r="0.6"/><circle cx="219.5" cy="173" r="0.6"/><circle cx="224.1" cy="173" r="0.6"/><circle cx="228.7" cy="173" r="0.6"/><circle cx="233.3" cy="173" r="0.6"/><circle cx="237.9" cy="173" r="0.6"/><circle cx="242.5" cy="173" r="0.6"/><circle cx="247.1" cy="173" r="0.6"/><circle cx="251.7" cy="173" r="0.6"/><circle cx="256.3" cy="173" r="0.6"/><circle cx="260.9" cy="173" r="0.6"/><circle cx="265.5" cy="173" r="0.6"/><circle cx="270.1" cy="173" r="0.6"/><circle cx="274.7" cy="173" r="0.6"/><circle cx="279.3" cy="173" r="0.6"/><circle cx="283.9" cy="173" r="0.6"/><circle cx="133.9" cy="175.3" r="0.6"/><circle cx="138.5" cy="175.3" r="0.6"/><circle cx="143.1" cy="175.3" r="0.6"/><circle cx="147.7" cy="175.3" r="0.6"/><circle cx="152.3" cy="175.3" r="0.6"/><circle cx="156.9" cy="175.3" r="0.6"/><circle cx="161.5" cy="175.3" r="0.6"/><circle cx="166.1" cy="175.3" r="0.6"/><circle cx="170.7" cy="175.3" r="0.6"/><circle cx="175.3" cy="175.3" r="0.6"/><circle cx="179.9" cy="175.3" r="0.6"/><circle cx="184.5" cy="175.3" r="0.6"/><circle cx="189.1" cy="175.3" r="0.6"/><circle cx="193.7" cy="175.3" r="0.6"/><circle cx="198.3" cy="175.3" r="0.6"/><circle cx="202.9" cy="175.3" r="0.6"/><circle cx="207.5" cy="175.3" r="0.6"/><circle cx="212.1" cy="175.3" r="0.6"/><circle cx="216.7" cy="175.3" r="0.6"/><circle cx="221.3" cy="175.3" r="0.6"/><circle cx="225.9" cy="175.3" r="0.6"/><circle cx="230.5" cy="175.3" r="0.6"/><circle cx="235.1" cy="175.3" r="0.6"/><circle cx="239.7" cy="175.3" r="0.6"/><circle cx="244.3" cy="175.3" r="0.6"/><circle cx="248.9" cy="175.3" r="0.6"/><circle cx="253.5" cy="175.3" r="0.6"/><circle cx="258.1" cy="175.3" r="0.6"/><circle cx="262.7" cy="175.4" r="0.6"/><circle cx="267.3" cy="175.4" r="0.6"/><circle cx="271.9" cy="175.4" r="0.6"/><circle cx="276.5" cy="175.4" r="0.6"/><circle cx="281.1" cy="175.4" r="0.6"/><circle cx="285.7" cy="175.4" r="0.6"/><circle cx="140.3" cy="177.5" r="0.6"/><circle cx="144.9" cy="177.5" r="0.6"/><circle cx="149.5" cy="177.5" r="0.6"/><circle cx="154.1" cy="177.5" r="0.6"/><circle cx="158.7" cy="177.5" r="0.6"/><circle cx="163.3" cy="177.5" r="0.6"/><circle cx="167.9" cy="177.5" r="0.6"/><circle cx="172.5" cy="177.6" r="0.6"/><circle cx="177.1" cy="177.6" r="0.6"/><circle cx="181.7" cy="177.6" r="0.6"/><circle cx="186.3" cy="177.6" r="0.6"/><circle cx="190.9" cy="177.6" r="0.6"/><circle cx="195.5" cy="177.6" r="0.6"/><circle cx="200.1" cy="177.6" r="0.6"/><circle cx="204.7" cy="177.6" r="0.6"/><circle cx="209.3" cy="177.6" r="0.6"/><circle cx="213.9" cy="177.6" r="0.6"/><circle cx="218.5" cy="177.6" r="0.6"/><circle cx="223.1" cy="177.6" r="0.6"/><circle cx="227.7" cy="177.6" r="0.6"/><circle cx="232.3" cy="177.6" r="0.6"/><circle cx="236.9" cy="177.7" r="0.6"/><circle cx="241.5" cy="177.7" r="0.6"/><circle cx="246.1" cy="177.7" r="0.6"/><circle cx="250.7" cy="177.7" r="0.6"/><circle cx="255.3" cy="177.7" r="0.6"/><circle cx="259.9" cy="177.7" r="0.6"/><circle cx="264.5" cy="177.7" r="0.6"/><circle cx="269.1" cy="177.7" r="0.6"/><circle cx="273.7" cy="177.7" r="0.6"/><circle cx="278.3" cy="177.7" r="0.6"/><circle cx="282.9" cy="177.7" r="0.6"/><circle cx="287.5" cy="177.7" r="0.6"/><circle cx="292.1" cy="177.7" r="0.6"/><circle cx="142.1" cy="179.7" r="0.6"/><circle cx="146.7" cy="179.7" r="0.6"/><circle cx="151.3" cy="179.7" r="0.6"/><circle cx="155.9" cy="179.7" r="0.6"/><circle cx="160.5" cy="179.8" r="0.6"/><circle cx="165.1" cy="179.8" r="0.6"/><circle cx="169.7" cy="179.8" r="0.6"/><circle cx="174.3" cy="179.8" r="0.6"/><circle cx="178.9" cy="179.8" r="0.6"/><circle cx="183.5" cy="179.8" r="0.6"/><circle cx="188.1" cy="179.8" r="0.6"/><circle cx="192.7" cy="179.8" r="0.6"/><circle cx="197.3" cy="179.9" r="0.6"/><circle cx="201.9" cy="179.9" r="0.6"/><circle cx="206.5" cy="179.9" r="0.6"/><circle cx="211.1" cy="179.9" r="0.6"/><circle cx="215.7" cy="179.9" r="0.6"/><circle cx="220.3" cy="179.9" r="0.6"/><circle cx="224.9" cy="179.9" r="0.6"/><circle cx="229.5" cy="179.9" r="0.6"/><circle cx="234.1" cy="180" r="0.6"/><circle cx="238.7" cy="180" r="0.6"/><circle cx="243.3" cy="180" r="0.6"/><circle cx="247.9" cy="180" r="0.6"/><circle cx="252.5" cy="180" r="0.6"/><circle cx="257.1" cy="180" r="0.6"/><circle cx="261.7" cy="180" r="0.6"/><circle cx="266.3" cy="180" r="0.6"/><circle cx="270.9" cy="180.1" r="0.6"/><circle cx="275.5" cy="180.1" r="0.6"/><circle cx="280.1" cy="180.1" r="0.6"/><circle cx="284.7" cy="180.1" r="0.6"/><circle cx="289.3" cy="180.1" r="0.6"/><circle cx="293.9" cy="180.1" r="0.6"/><circle cx="148.5" cy="181.9" r="0.6"/><circle cx="153.1" cy="181.9" r="0.6"/><circle cx="157.7" cy="181.9" r="0.6"/><circle cx="162.3" cy="182" r="0.6"/><circle cx="166.9" cy="182" r="0.6"/><circle cx="171.5" cy="182" r="0.6"/><circle cx="176.1" cy="182" r="0.6"/><circle cx="180.7" cy="182" r="0.6"/><circle cx="185.3" cy="182.1" r="0.6"/><circle cx="189.9" cy="182.1" r="0.6"/><circle cx="194.5" cy="182.1" r="0.6"/><circle cx="199.1" cy="182.1" r="0.6"/><circle cx="203.7" cy="182.1" r="0.6"/><circle cx="208.3" cy="182.1" r="0.6"/><circle cx="212.9" cy="182.2" r="0.6"/><circle cx="217.5" cy="182.2" r="0.6"/><circle cx="222.1" cy="182.2" r="0.6"/><circle cx="226.7" cy="182.2" r="0.6"/><circle cx="231.3" cy="182.2" r="0.6"/><circle cx="235.9" cy="182.3" r="0.6"/><circle cx="240.5" cy="182.3" r="0.6"/><circle cx="245.1" cy="182.3" r="0.6"/><circle cx="249.7" cy="182.3" r="0.6"/><circle cx="254.3" cy="182.3" r="0.6"/><circle cx="258.9" cy="182.3" r="0.6"/><circle cx="263.5" cy="182.4" r="0.6"/><circle cx="268.1" cy="182.4" r="0.6"/><circle cx="272.7" cy="182.4" r="0.6"/><circle cx="277.3" cy="182.4" r="0.6"/><circle cx="281.9" cy="182.4" r="0.6"/><circle cx="286.5" cy="182.5" r="0.6"/><circle cx="291.1" cy="182.5" r="0.6"/><circle cx="295.7" cy="182.5" r="0.6"/><circle cx="300.3" cy="182.5" r="0.6"/><circle cx="150.3" cy="184.1" r="0.6"/><circle cx="154.9" cy="184.1" r="0.6"/><circle cx="159.5" cy="184.1" r="0.6"/><circle cx="164.1" cy="184.2" r="0.6"/><circle cx="168.7" cy="184.2" r="0.6"/><circle cx="173.3" cy="184.2" r="0.6"/><circle cx="177.9" cy="184.2" r="0.6"/><circle cx="182.5" cy="184.3" r="0.6"/><circle cx="187.1" cy="184.3" r="0.6"/><circle cx="191.7" cy="184.3" r="0.6"/><circle cx="196.3" cy="184.3" r="0.6"/><circle cx="200.9" cy="184.4" r="0.6"/><circle cx="205.5" cy="184.4" r="0.6"/><circle cx="210.1" cy="184.4" r="0.6"/><circle cx="214.7" cy="184.4" r="0.6"/><circle cx="219.3" cy="184.5" r="0.6"/><circle cx="223.9" cy="184.5" r="0.6"/><circle cx="228.5" cy="184.5" r="0.6"/><circle cx="233.1" cy="184.5" r="0.6"/><circle cx="237.7" cy="184.5" r="0.6"/><circle cx="242.3" cy="184.6" r="0.6"/><circle cx="246.9" cy="184.6" r="0.6"/><circle cx="251.5" cy="184.6" r="0.6"/><circle cx="256.1" cy="184.6" r="0.6"/><circle cx="260.7" cy="184.7" r="0.6"/><circle cx="265.3" cy="184.7" r="0.6"/><circle cx="269.9" cy="184.7" r="0.6"/><circle cx="274.5" cy="184.7" r="0.6"/><circle cx="279.1" cy="184.8" r="0.6"/><circle cx="283.7" cy="184.8" r="0.6"/><circle cx="288.3" cy="184.8" r="0.6"/><circle cx="292.9" cy="184.8" r="0.6"/><circle cx="297.5" cy="184.9" r="0.6"/><circle cx="302.1" cy="184.9" r="0.6"/><circle cx="156.7" cy="186.3" r="0.6"/><circle cx="161.3" cy="186.3" r="0.6"/><circle cx="165.9" cy="186.4" r="0.6"/><circle cx="170.5" cy="186.4" r="0.6"/><circle cx="175.1" cy="186.4" r="0.6"/><circle cx="179.7" cy="186.5" r="0.6"/><circle cx="184.3" cy="186.5" r="0.6"/><circle cx="188.9" cy="186.5" r="0.6"/><circle cx="193.5" cy="186.5" r="0.6"/><circle cx="198.1" cy="186.6" r="0.6"/><circle cx="202.7" cy="186.6" r="0.6"/><circle cx="207.3" cy="186.6" r="0.6"/><circle cx="211.9" cy="186.7" r="0.6"/><circle cx="216.5" cy="186.7" r="0.6"/><circle cx="221.1" cy="186.7" r="0.6"/><circle cx="225.7" cy="186.8" r="0.6"/><circle cx="230.3" cy="186.8" r="0.6"/><circle cx="234.9" cy="186.8" r="0.6"/><circle cx="239.5" cy="186.8" r="0.6"/><circle cx="244.1" cy="186.9" r="0.6"/><circle cx="248.7" cy="186.9" r="0.6"/><circle cx="253.3" cy="186.9" r="0.6"/><circle cx="257.9" cy="187" r="0.6"/><circle cx="262.5" cy="187" r="0.6"/><circle cx="267.1" cy="187" r="0.6"/><circle cx="271.7" cy="187" r="0.6"/><circle cx="276.3" cy="187.1" r="0.6"/><circle cx="280.9" cy="187.1" r="0.6"/><circle cx="285.5" cy="187.1" r="0.6"/><circle cx="290.1" cy="187.2" r="0.6"/><circle cx="294.7" cy="187.2" r="0.6"/><circle cx="299.3" cy="187.2" r="0.6"/><circle cx="303.9" cy="187.2" r="0.6"/><circle cx="308.5" cy="187.3" r="0.6"/><circle cx="158.5" cy="188.5" r="0.6"/><circle cx="163.1" cy="188.5" r="0.6"/><circle cx="167.7" cy="188.6" r="0.6"/><circle cx="172.3" cy="188.6" r="0.6"/><circle cx="176.9" cy="188.6" r="0.6"/><circle cx="181.5" cy="188.7" r="0.6"/><circle cx="186.1" cy="188.7" r="0.6"/><circle cx="190.7" cy="188.7" r="0.6"/><circle cx="195.3" cy="188.8" r="0.6"/><circle cx="199.9" cy="188.8" r="0.6"/><circle cx="204.5" cy="188.8" r="0.6"/><circle cx="209.1" cy="188.9" r="0.6"/><circle cx="213.7" cy="188.9" r="0.6"/><circle cx="218.3" cy="188.9" r="0.6"/><circle cx="222.9" cy="189" r="0.6"/><circle cx="227.5" cy="189" r="0.6"/><circle cx="232.1" cy="189.1" r="0.6"/><circle cx="236.7" cy="189.1" r="0.6"/><circle cx="241.3" cy="189.1" r="0.6"/><circle cx="245.9" cy="189.2" r="0.6"/><circle cx="250.5" cy="189.2" r="0.6"/><circle cx="255.1" cy="189.2" r="0.6"/><circle cx="259.7" cy="189.3" r="0.6"/><circle cx="264.3" cy="189.3" r="0.6"/><circle cx="268.9" cy="189.3" r="0.6"/><circle cx="273.5" cy="189.4" r="0.6"/><circle cx="278.1" cy="189.4" r="0.6"/><circle cx="282.7" cy="189.4" r="0.6"/><circle cx="287.3" cy="189.5" r="0.6"/><circle cx="291.9" cy="189.5" r="0.6"/><circle cx="296.5" cy="189.5" r="0.6"/><circle cx="301.1" cy="189.6" r="0.6"/><circle cx="305.7" cy="189.6" r="0.6"/><circle cx="310.3" cy="189.6" r="0.6"/><circle cx="164.9" cy="190.7" r="0.6"/><circle cx="169.5" cy="190.8" r="0.6"/><circle cx="174.1" cy="190.8" r="0.6"/><circle cx="178.7" cy="190.8" r="0.6"/><circle cx="183.3" cy="190.9" r="0.6"/><circle cx="187.9" cy="190.9" r="0.6"/><circle cx="192.5" cy="191" r="0.6"/><circle cx="197.1" cy="191" r="0.6"/><circle cx="201.7" cy="191" r="0.6"/><circle cx="206.3" cy="191.1" r="0.6"/><circle cx="210.9" cy="191.1" r="0.6"/><circle cx="215.5" cy="191.2" r="0.6"/><circle cx="220.1" cy="191.2" r="0.6"/><circle cx="224.7" cy="191.2" r="0.6"/><circle cx="229.3" cy="191.3" r="0.6"/><circle cx="233.9" cy="191.3" r="0.6"/><circle cx="238.5" cy="191.4" r="0.6"/><circle cx="243.1" cy="191.4" r="0.6"/><circle cx="247.7" cy="191.4" r="0.6"/><circle cx="252.3" cy="191.5" r="0.6"/><circle cx="256.9" cy="191.5" r="0.6"/><circle cx="261.5" cy="191.6" r="0.6"/><circle cx="266.1" cy="191.6" r="0.6"/><circle cx="270.7" cy="191.6" r="0.6"/><circle cx="275.3" cy="191.7" r="0.6"/><circle cx="279.9" cy="191.7" r="0.6"/><circle cx="284.5" cy="191.8" r="0.6"/><circle cx="289.1" cy="191.8" r="0.6"/><circle cx="293.7" cy="191.8" r="0.6"/><circle cx="298.3" cy="191.9" r="0.6"/><circle cx="302.9" cy="191.9" r="0.6"/><circle cx="307.5" cy="192" r="0.6"/><circle cx="312.1" cy="192" r="0.6"/><circle cx="316.7" cy="192" r="0.6"/></g>
</g>
<!-- left gold electrode -->
<path d="M63.4 175.6 L103.7 203.1 L103.7 219.4 L63.4 188.3 Z" fill="#e8b04a"/>
<path d="M103.7 203.1 L131.2 199.6 L131.2 214.5 L103.7 219.4 Z" fill="#f2b634"/>
<path d="M63.4 175.6 L89 172.3 L131.2 199.6 L103.7 203.1 Z" fill="url(#goldtop)"/>
<!-- right gold electrode -->
<linearGradient id="goldR" x1="0" y1="0" x2="1" y2="0.4"><stop offset="0" stop-color="#f6d868"/><stop offset="0.5" stop-color="#e2b838"/><stop offset="1" stop-color="#d6a828"/></linearGradient>
<path d="M213.7 165.3 L230 162.7 L289.2 182.7 L272.9 186.7 Z" fill="url(#goldR)"/>
<path d="M213.7 165.3 L272.9 186.7 L272.9 188 L213.7 167 Z" fill="#f4d050"/>
<path d="M272.9 186.7 L289.2 182.7 L289.2 193.9 L272.9 197.3 Z" fill="#eeb020"/>
<!-- blue beam -->
<path d="M241 104 L261 116 L218 166 L176 168 Z" fill="#9ccef8" opacity="0.9" filter="url(#blur3)"/>
<path d="M250 110 L196 166" stroke="#5aa4ee" stroke-width="6" opacity="0.8" filter="url(#blur3)"/>
<ellipse cx="194" cy="172" rx="22" ry="9" fill="#3a8cf0" opacity="0.6" filter="url(#blur3)"/>
<!-- LED -->
<g transform="translate(254 109) rotate(-48.2)">
<rect x="0" y="-9.4" width="26" height="18.8" fill="#3c3c3c"/>
<ellipse cx="0" cy="0" rx="3.2" ry="9.4" fill="#3c3c3c"/>
<ellipse cx="26" cy="0" rx="3.4" ry="9.4" fill="#a8a8a8"/>
<ellipse cx="24.6" cy="0.4" rx="2.9" ry="8.9" fill="#4a4a4a"/>
</g>
<!-- oscilloscope -->
<rect x="98" y="43" width="116" height="51.5" rx="2.5" fill="url(#scope)" stroke="#d8d6ce" stroke-width="0.6"/>
<path d="M99 84.5H213" stroke="#dcdad2" stroke-width="0.6"/>
<rect x="104.4" y="51.2" width="42.4" height="31.5" fill="#d4d4d0"/>
<rect x="105.8" y="52.6" width="33.4" height="26" fill="#0c1058"/>
<rect x="139.2" y="52.6" width="6.8" height="26" fill="#2838c0"/>
<rect x="105.8" y="78.6" width="40.2" height="3" fill="#3040c0"/>
<rect x="140.3" y="55" width="4.6" height="3" fill="#c8d0f0"/><rect x="140.3" y="60" width="4.6" height="3" fill="#9aa8e8"/><rect x="140.3" y="69" width="4.6" height="4" fill="#e0e4f8"/>
<path d="M107 63H108.5Q109 56.5 110 56.5H112.5Q113.5 56.5 114 63H117.5Q118 56.5 119 56.5H121.5Q122.5 56.5 123 63H126.5Q127 56.5 128 56.5H130.5Q131.5 56.5 132 63H135.5Q136 56.5 137 56.5H138.5" fill="none" stroke="#d8c860" stroke-width="0.8"/>
<path d="M107 75.5H108.5Q109 68.5 110 68.5H112.5Q113.5 68.5 114 75.5H117.5Q118 68.5 119 68.5H121.5Q122.5 68.5 123 75.5H126.5Q127 68.5 128 68.5H130.5Q131.5 68.5 132 75.5H135.5Q136 68.5 137 68.5H138.5" fill="none" stroke="#40a8d0" stroke-width="0.8"/>
<g fill="#f8f8f4" stroke="#c0c0b8" stroke-width="0.5">
<circle cx="151.5" cy="56.4" r="1.9"/><circle cx="151.5" cy="61.6" r="1.9"/><circle cx="151.5" cy="66.6" r="1.9"/><circle cx="151.5" cy="71.6" r="1.9"/><circle cx="151.5" cy="76.6" r="1.9"/><circle cx="151.5" cy="81.3" r="1.5"/>
<circle cx="161.6" cy="51.4" r="3.6"/>
<rect x="168" y="45.5" width="4.5" height="3" rx="1"/><rect x="175" y="45.5" width="4.5" height="3" rx="1"/><rect x="182" y="45.5" width="4.5" height="3" rx="1"/><rect x="189" y="45.5" width="4.5" height="3" rx="1"/><rect x="196" y="45.5" width="4.5" height="3" rx="1"/>
<rect x="168" y="50.5" width="4.5" height="3" rx="1"/><rect x="175" y="50.5" width="4.5" height="3" rx="1"/><rect x="182" y="50.5" width="4.5" height="3" rx="1"/><rect x="189" y="50.5" width="4.5" height="3" rx="1"/><rect x="196" y="50.5" width="4.5" height="3" rx="1"/>
</g>
<rect x="165" y="57" width="24" height="32" fill="#e2e0d8"/>
<rect x="191" y="57" width="9" height="32" fill="#dedcd4"/>
<rect x="202" y="57" width="10" height="32" fill="#dedcd4"/>
<g fill="#fafaf6" stroke="#b0b0a8" stroke-width="0.5">
<circle cx="170" cy="62" r="2.3"/><circle cx="181.7" cy="62" r="2.3"/><circle cx="193.7" cy="62" r="2.1"/><circle cx="206" cy="62" r="2.1"/>
<circle cx="169.8" cy="77.7" r="3.3"/><circle cx="181.7" cy="77.7" r="3.3"/><circle cx="193.7" cy="77.7" r="3.1"/>
<circle cx="206" cy="69" r="1.5"/><circle cx="206" cy="73" r="1.5"/><circle cx="206" cy="77" r="1.5"/>
</g>
<circle cx="169.8" cy="69" r="1.9" fill="#ecdc88"/><circle cx="176" cy="69" r="1.9" fill="#eab494"/><circle cx="181.7" cy="69" r="1.9" fill="#90b8ec"/>
<rect x="144" y="89.2" width="4.6" height="1.6" fill="#222"/>
<text x="104" y="48" font-size="3.2" fill="#a03030">Tektronix</text>
<path d="M143 45 L149.5 45 L148.5 48.5 L141.5 48.5Z" fill="#a02040"/>
<rect x="100" y="94" width="5" height="1.4" fill="#777"/><rect x="206" y="94" width="5" height="1.4" fill="#777"/>
<!-- wires -->
<g fill="none" stroke="#111" stroke-width="1.9">
<path d="M169.9 88V107.5H135.2V124"/>
<path d="M181.3 88V124"/>
<path d="M86.4 177V124H262.9V177"/>
</g>
<circle cx="169.9" cy="88.5" r="1.5" fill="#444"/><circle cx="181.3" cy="88.5" r="1.5" fill="#444"/>
<!-- resistor -->
<path d="M144.5 121 Q146 119.4 149 119.8 L151 120.6 H155 L157 119.8 Q160.5 119.4 161.7 121 V127 Q160.5 128.6 157 128.2 L155 127.4 H151 L149 128.2 Q146 128.6 144.5 127 Z" fill="#eec878"/>
<rect x="146.8" y="119.8" width="2.2" height="8.4" fill="#f0a820"/>
<rect x="149.6" y="120.4" width="1.6" height="7.2" fill="#f0b030"/>
<rect x="152.6" y="120.6" width="1.8" height="6.8" fill="#b83020"/>
<rect x="158" y="119.8" width="2" height="8.4" fill="#b88020"/>
<!-- texts -->
<g font-size="16.2" fill="#111"><text x="228.2" y="77.7">470 nm LED</text></g>
<g font-size="14.4" fill="#111"><text x="134.4" y="145.2">15 MΩ</text></g>
<g font-size="16.2" fill="#111"><text x="109.6" y="270.7">WSe<tspan font-size="11" dy="3.5">2</tspan><tspan dy="-3.5">/ZnO hetero-structure</tspan></text></g>
</g>

<g font-size="24" font-weight="bold" fill="#000">
<text x="4.5" y="21.7">a)</text>
<text x="318.6" y="21.7">b)</text>
<text x="3.6" y="312.6">c)</text>
<text x="319.4" y="312.6">d)</text>
<text x="3.6" y="596.8">e)</text>
<text x="320.5" y="596.8">f)</text>
</g>
<g stroke="#555" stroke-width="1.6" fill="none" stroke-linecap="square">
<path d="M367 42H623.5V263.5H367Z"/>
<path stroke-linecap="butt" d="M392.3 263.5v4M392.3 42v4M443.6 263.5v4M443.6 42v4M495 263.5v4M495 42v4M546.3 263.5v4M546.3 42v4M597.6 263.5v4M597.6 42v4M366.6 263.5v2.3M366.6 42v2.3M418 263.5v2.3M418 42v2.3M469.3 263.5v2.3M469.3 42v2.3M520.6 263.5v2.3M520.6 42v2.3M572 263.5v2.3M572 42v2.3M623.3 263.5v2.3M623.3 42v2.3M367 233h-4M623.5 233h-4M367 200.9h-4M623.5 200.9h-4M367 168.7h-4M623.5 168.7h-4M367 136.6h-4M623.5 136.6h-4M367 104.4h-4M623.5 104.4h-4M367 72.3h-4M623.5 72.3h-4M367 249.1h-2.3M623.5 249.1h-2.3M367 216.9h-2.3M623.5 216.9h-2.3M367 184.8h-2.3M623.5 184.8h-2.3M367 152.7h-2.3M623.5 152.7h-2.3M367 120.5h-2.3M623.5 120.5h-2.3M367 88.4h-2.3M623.5 88.4h-2.3M367 56.2h-2.3M623.5 56.2h-2.3"/>
</g>
<g font-size="9.5" fill="#222">
<text transform="translate(392.3 278.8) scale(1 1.15)" text-anchor="middle">0</text>
<text transform="translate(443.6 278.8) scale(1 1.15)" text-anchor="middle">100</text>
<text transform="translate(495 278.8) scale(1 1.15)" text-anchor="middle">200</text>
<text transform="translate(546.3 278.8) scale(1 1.15)" text-anchor="middle">300</text>
<text transform="translate(597.6 278.8) scale(1 1.15)" text-anchor="middle">400</text>
<text transform="translate(360 236.5) scale(1 1.15)" text-anchor="end">0.0</text>
<text transform="translate(360 204.4) scale(1 1.15)" text-anchor="end">0.2</text>
<text transform="translate(360 172.2) scale(1 1.15)" text-anchor="end">0.4</text>
<text transform="translate(360 140.1) scale(1 1.15)" text-anchor="end">0.6</text>
<text transform="translate(360 107.9) scale(1 1.15)" text-anchor="end">0.8</text>
<text transform="translate(360 75.8) scale(1 1.15)" text-anchor="end">1.0</text>
</g>
<path d="M392.5 200L393.3 212L394.2 205L395.2 236L396.2 150L397.5 100L398.9 67.8L399.4 80.3L399.9 66.8L400.5 86.9L401.3 63.6L401.9 90.8L402.4 74.7L403.3 94.3L403.9 78.6L404.9 94.5L405.5 82.6L406 99.1L406.6 85.4L407.1 95.5L408 82.3L408.8 93.6L409.4 72.3L409.9 95.2L410.4 62.3L411.1 94.4L411.9 72.4L412.5 99.1L413.3 72.5L414.1 90.9L415 66.9L415.6 80L416.1 60.2L417 82.7L417.7 64.7L418.5 81.7L419.3 54.8L419.9 97.7L420.7 72.7L422.8 207.4L423.8 237.1L424.6 208.3L425.4 236.4L426.4 200.9L427 234.9L427.8 214.9L428.5 236.9L429 212.7L429.9 242.4L430.5 230.5L431.4 248.2L432.1 224.5L433.1 234.7L434 208.3L434.7 236.4L435.6 208.3L436.1 245L436.7 220L437.4 255.6L438 226.7L438.7 247L439.4 218.7L440.2 243L441 217.4L441.5 233.7L442.4 213.5L443.3 239.3L443.9 209.4L444.7 244.6L445.2 222.3L445.7 246.7L446.2 220.9L446.7 238.4L447.2 150L448.5 71.1L449.4 84.2L450 67.8L450.6 88.2L451.1 62.3L452.1 84.9L452.8 59.5L453.3 89.5L453.9 65L454.4 91.4L455.4 69.8L455.9 95L456.3 69.8L457.3 86.8L458.2 60.9L458.8 87.1L459.7 65L460.6 90.9L461.1 61.6L462.1 84.7L463 71.8L463.9 91.6L464.6 75.9L465.1 94.5L465.7 79.3L466.5 97.7L467.2 67.6L468.2 80L468.8 56.5L469.4 89.5L469.9 63.6L470.9 83.8L471.6 69.1L472.5 91.5L474.2 209.7L475.1 224.7L475.8 208.4L476.7 223.1L477.6 196.5L478.2 229.1L479.2 220.9L479.7 237.4L480.3 218.5L481.2 243.3L482.1 215L482.9 249.7L483.6 223.4L484.1 240.2L484.9 219.4L485.8 251.9L486.8 214.2L487.3 250.5L487.9 225L488.7 252.7L489.4 230.6L490.3 257.1L491 226L492 245.9L492.9 219.3L493.7 239.2L494.1 209.8L494.7 241.6L495.5 217.2L496.2 238.8L497 216L497.7 249.7L499.1 150L500.5 74.6L501.3 87.8L501.8 55.8L502.6 82.7L503.4 57.7L504.1 83.9L504.9 58.2L505.7 97.7L506.4 73.1L507.4 97.7L508.3 79.3L508.9 89.4L509.9 70.4L510.4 88.2L511.1 63.3L511.7 82.7L512.5 68.3L513.4 98.4L514.3 75.2L514.8 91L515.8 80.1L516.8 90.9L517.5 77.3L518.4 91.7L519.1 77.1L519.7 94.3L520.3 74.3L520.7 88.1L521.4 71.8L522.1 82.7L522.8 55.1L523.8 83.1L524.7 216.5L525.3 231.1L526.2 215.7L526.7 233.4L527.6 211.4L528.2 230.5L529.2 212.1L530 234.9L530.5 209L531.1 239.9L532.1 229.7L533 251.9L533.9 228.7L534.9 242.4L535.5 202.4L536.5 236.2L537 208.4L537.5 234.9L538.1 214.8L538.6 236.2L539.2 211.3L539.8 238.1L540.4 210.5L540.8 243.8L541.2 220.5L542 251.2L542.7 226.8L543.2 241.3L543.9 222.8L544.8 234.9L545.5 206.1L546.5 235.9L547.4 212.9L548.2 241.6L548.8 223L549.3 249L551.2 150L552.2 68.6L552.7 87.9L553.6 63.7L554.5 85.4L555 67.6L555.7 87.1L556.4 62.6L557.4 90.9L558.2 65L559.1 86.4L559.8 75.2L560.4 86.1L561.1 75.1L561.9 88.9L562.5 74.1L563.1 90.5L563.6 66.7L564.1 88L564.9 69.8L565.7 94.3L566.6 69.1L567.2 97L567.8 82L568.6 92.2L569.5 64.3L570.3 78.1L571.2 66.6L571.9 73.9L572.8 62.3L573.7 97.7L576.8 209.4L577.6 239.2L578.1 212.8L578.7 233.2L579.6 206.2L580.4 224.6L581.3 206L581.7 226.9L582.5 200.9L583.3 239.1L583.8 221.6L584.3 254.1L584.9 221.5L585.5 240.8L586.5 217.5L587.1 237.1L587.9 210.6L588.7 235.5L589.2 206.1L589.8 236.4L590.4 220.2L590.8 243.8L591.4 226.8L592.3 244.6L592.8 228.9L593.5 251.5L594 224.1L594.6 259.3L595.6 220.1L596.3 243L597.3 213.5L597.8 227.5" fill="none" stroke="#1a30ff" stroke-width="1.75" stroke-linejoin="round"/>
<text transform="translate(583 68.2) scale(1 1.15)" font-size="11.8" font-weight="bold" fill="#f00">10 HZ</text>
<text transform="translate(333.9 145.2) rotate(-90)" text-anchor="middle" font-size="14.93" font-weight="bold" fill="#000">Normalized Photocurrent</text>
<text transform="translate(495.3 300.6) scale(1 1.1)" text-anchor="middle" font-size="13.6" font-weight="bold" fill="#000">Time (ms)</text>
<g stroke="#222" stroke-width="1.2" fill="none" stroke-linecap="square">
<path d="M48.6 325.5H306.3V548.3H48.6Z"/>
<path stroke-linecap="butt" d="M48.6 548.3v4M48.6 325.5v4M78.9 548.3v4M78.9 325.5v4M109.3 548.3v4M109.3 325.5v4M139.6 548.3v4M139.6 325.5v4M169.9 548.3v4M169.9 325.5v4M200.2 548.3v4M200.2 325.5v4M230.6 548.3v4M230.6 325.5v4M260.9 548.3v4M260.9 325.5v4M291.2 548.3v4M291.2 325.5v4M63.8 548.3v2.3M63.8 325.5v2.3M94.1 548.3v2.3M94.1 325.5v2.3M124.4 548.3v2.3M124.4 325.5v2.3M154.8 548.3v2.3M154.8 325.5v2.3M185.1 548.3v2.3M185.1 325.5v2.3M215.4 548.3v2.3M215.4 325.5v2.3M245.7 548.3v2.3M245.7 325.5v2.3M276.1 548.3v2.3M276.1 325.5v2.3M306.4 548.3v2.3M306.4 325.5v2.3M48.6 528.8h-4M306.3 528.8h-4M48.6 490.1h-4M306.3 490.1h-4M48.6 451.4h-4M306.3 451.4h-4M48.6 412.7h-4M306.3 412.7h-4M48.6 374h-4M306.3 374h-4M48.6 335.3h-4M306.3 335.3h-4M48.6 548.1h-2.3M306.3 548.1h-2.3M48.6 509.4h-2.3M306.3 509.4h-2.3M48.6 470.7h-2.3M306.3 470.7h-2.3M48.6 432h-2.3M306.3 432h-2.3M48.6 393.3h-2.3M306.3 393.3h-2.3M48.6 354.6h-2.3M306.3 354.6h-2.3"/>
</g>
<g font-size="9.5" fill="#222">
<text transform="translate(48.6 563.7) scale(1 1.15)" text-anchor="middle">-2</text>
<text transform="translate(78.9 563.7) scale(1 1.15)" text-anchor="middle">0</text>
<text transform="translate(109.3 563.7) scale(1 1.15)" text-anchor="middle">2</text>
<text transform="translate(139.6 563.7) scale(1 1.15)" text-anchor="middle">4</text>
<text transform="translate(169.9 563.7) scale(1 1.15)" text-anchor="middle">6</text>
<text transform="translate(200.2 563.7) scale(1 1.15)" text-anchor="middle">8</text>
<text transform="translate(230.6 563.7) scale(1 1.15)" text-anchor="middle">10</text>
<text transform="translate(260.9 563.7) scale(1 1.15)" text-anchor="middle">12</text>
<text transform="translate(291.2 563.7) scale(1 1.15)" text-anchor="middle">14</text>
<text transform="translate(41.8 532.3) scale(1 1.15)" text-anchor="end">0.0</text>
<text transform="translate(41.8 493.6) scale(1 1.15)" text-anchor="end">0.2</text>
<text transform="translate(41.8 454.9) scale(1 1.15)" text-anchor="end">0.4</text>
<text transform="translate(41.8 416.2) scale(1 1.15)" text-anchor="end">0.6</text>
<text transform="translate(41.8 377.5) scale(1 1.15)" text-anchor="end">0.8</text>
<text transform="translate(41.8 338.8) scale(1 1.15)" text-anchor="end">1.0</text>
</g>
<path d="M78.7 525.6L79.1 526L79.6 524.3L80.1 522.4L80.6 521L80.9 522.7L81.1 523.7L81.3 524L81.6 524.6L81.9 525.3L82.3 526.6L82.7 527.5L83.1 523.8L83.4 511.3L83.8 496.2L84.1 479.5L84.5 466.6L84.9 459.4L85.4 455.3L85.9 452.1L86.4 447.3L86.9 440.1L87.3 431.7L87.8 423.4L88.4 416.4L89.1 410.8L89.9 405.9L90.7 402L91.3 399.8L91.7 396.5L91.8 395.8L92 395.1L92.2 397.4L92.5 396.8L92.9 397.6L93.3 397.1L93.6 394.9L93.9 393.4L94.1 390.6L94.3 386.5L94.7 386.7L95.2 385.1L95.9 385.6L96.5 388.7L97.1 387.4L97.6 388.9L98 386.3L98.5 385.3L99 384.1L99.7 384.9L100.4 385.2L101.2 385.9L101.9 388.4L102.6 385.9L103.4 385.8L104.1 382.8L104.8 383.8L105.6 383.6L106.4 383.7L107.1 384.5L107.7 384.7L108 384.9L108.2 382.5L108.3 383.9L108.6 388.3L109 393.9L109.5 404.7L110.1 416.3L110.6 428L111.1 440.6L111.6 454.6L112 467.7L112.5 478.2L112.9 485.2L113.3 489.8L113.7 493L114.1 495.6L114.4 497.2L114.7 497.4L115 497.8L115.4 499.5L115.8 503.8L116.3 509.6L116.8 516.3L117.3 519.8L117.8 519L118.3 517.5L118.8 515.7L119.3 514.6L119.8 516.7L120.3 516.4L120.7 516.8L121.2 517.7L121.7 519L122.1 518.8L122.6 516.7L123.1 516.9L123.6 518.8L124 522L124.5 523.5L125.1 526.8L125.8 528.2L126.5 529.6L127.3 529.2L128 529.5L128.7 529.6L129.5 530L130.2 527.4L130.9 527.8L131.4 528.8L131.9 531.3L132.3 533.1L132.8 533.1L133.3 526L133.7 514.4L134.2 502.3L134.7 489.8L135.3 476.5L136 462L136.7 447.9L137.6 435.7L138.7 425.9L140.1 417.6L141.4 410.6L142.5 404.8L143.4 400.3L144.1 397.7L144.8 395.4L145.4 394.2L145.9 393.3L146.3 391.5L146.7 392.9L147.3 392.5L148.1 390.9L149 391L150 389.2L151.2 388.1L152.6 386.7L154.2 387.1L155.8 384.1L157 383.4L157.7 384.7L158.2 383.9L158.5 383.8L158.9 388.3L159.3 393.1L159.7 403.7L160.1 415.1L160.8 428L161.9 444L163.2 462.9L164.5 481.2L165.7 495.6L166.6 505.1L167.3 511.5L168 515.2L168.6 518.3L169.1 519.7L169.6 518L170 516.2L170.5 516.5L171 519.2L171.4 521.5L171.9 523.2L172.4 524.5L173.1 525.7L173.8 529.3L174.6 529.6L175.3 531L176 529.2L176.7 528.9L177.4 529.8L178.2 529.3L179.2 529.9L180.3 530L181.3 530.2L182.1 530.6L182.5 530.7L182.7 528.3L182.8 527.3L183 524L183.4 522.3L183.8 516.9L184.3 513.6L184.8 505.3L185.5 492.7L186.2 476.5L187 460.3L187.7 447.3L188.3 438.9L188.8 433.2L189.2 428.7L189.7 424.1L190.2 419L190.7 414.1L191.1 409.9L191.6 406.7L192.1 405.1L192.5 404.8L193 404.7L193.5 403.8L194 401.5L194.5 399.7L195 394.3L195.5 393.4L195.9 392.2L196.3 392L196.8 390.9L197.4 389.7L198.2 389.9L199.2 391.4L200.2 391.4L201.3 389.3L202.5 388.9L203.8 388.4L205 387.6L206.1 388.3L207 387L207.8 388.5L208.5 387.7L209 386.4L209.4 386.7L209.6 384.7L209.7 385.8L210 390.6L210.4 403.8L210.8 421.4L211.3 440.4L211.9 457L212.5 471L213.2 484.2L214 495.8L214.8 505.3L215.7 511.2L216.7 515.7L217.7 519.4L218.6 523.2L219.4 525.5L220 526.2L220.7 529.5L221.5 531.4L222.4 532.5L223.3 533.8L224.3 532.7L225.4 534.2L226.6 532.5L227.9 532.9L229.1 530L230.2 530.9L231.1 531.3L231.8 535.3L232.5 536.4L233.1 535L233.6 532L234.1 525.8L234.6 519.4L235.1 509.1L235.8 497.4L236.6 483.5L237.3 469.4L238 457L238.5 446.6L238.9 437.2L239.4 429L239.9 422.2L240.5 417.2L241.2 413.7L242 411.1L242.8 408.6L243.7 406.3L244.7 404.4L245.7 402.7L246.7 400.9L247.7 398.3L248.6 396.6L249.5 394.8L250.5 394.4L251.5 391.5L252.4 392.7L253.4 392.4L254.4 392.8L255.4 392.7L256.5 390.1L257.5 390.2L258.3 389.4L258.9 388.3L259.3 385.5L259.7 387.7L260.2 392.5L260.9 401.5L261.6 416L262.4 432.2L263.1 447.3L263.8 461.8L264.6 476.6L265.3 490.4L266 501.4L266.7 509L267.4 513.8L268.1 517.3L268.9 522L269.8 521.7L270.8 522.5L271.8 522.9L272.8 525.4L273.7 526.2L274.6 526.3L275.5 527.7L276.6 527.3L278 530.3L279.7 531.5L281.3 533.3L282.4 534" fill="none" stroke="#0b8452" stroke-width="1.9" stroke-linejoin="round"/>
<text transform="translate(252 356.8) scale(1 1.15)" font-size="12" font-weight="bold" fill="#f00">300 Hz</text>
<text transform="translate(15.1 429.4) rotate(-90)" text-anchor="middle" font-size="14.46" font-weight="bold" fill="#000">Normalized Photocurrent</text>
<text transform="translate(177.5 585.2) scale(1 1.1)" text-anchor="middle" font-size="13.8" font-weight="bold" fill="#000">Time (ms)</text>
<g stroke="#222" stroke-width="1.2" fill="none" stroke-linecap="square">
<path d="M366 325.5H622.5V548.3H366Z"/>
<path stroke-linecap="butt" d="M380.4 548.3v4M380.4 325.5v4M437.4 548.3v4M437.4 325.5v4M494.4 548.3v4M494.4 325.5v4M551.3 548.3v4M551.3 325.5v4M608.3 548.3v4M608.3 325.5v4M408.9 548.3v2.3M408.9 325.5v2.3M465.9 548.3v2.3M465.9 325.5v2.3M522.8 548.3v2.3M522.8 325.5v2.3M579.8 548.3v2.3M579.8 325.5v2.3M366 530.3h-4M622.5 530.3h-4M366 494.7h-4M622.5 494.7h-4M366 459.1h-4M622.5 459.1h-4M366 423.6h-4M622.5 423.6h-4M366 388h-4M622.5 388h-4M366 352.4h-4M622.5 352.4h-4M366 548.1h-2.3M622.5 548.1h-2.3M366 512.5h-2.3M622.5 512.5h-2.3M366 476.9h-2.3M622.5 476.9h-2.3M366 441.3h-2.3M622.5 441.3h-2.3M366 405.8h-2.3M622.5 405.8h-2.3M366 370.2h-2.3M622.5 370.2h-2.3M366 334.6h-2.3M622.5 334.6h-2.3"/>
</g>
<g font-size="9.5" fill="#222">
<text transform="translate(380.4 563.7) scale(1 1.15)" text-anchor="middle">0</text>
<text transform="translate(437.4 563.7) scale(1 1.15)" text-anchor="middle">2</text>
<text transform="translate(494.4 563.7) scale(1 1.15)" text-anchor="middle">4</text>
<text transform="translate(551.3 563.7) scale(1 1.15)" text-anchor="middle">6</text>
<text transform="translate(608.3 563.7) scale(1 1.15)" text-anchor="middle">8</text>
<text transform="translate(358.6 533.8) scale(1 1.15)" text-anchor="end">0.0</text>
<text transform="translate(358.6 498.2) scale(1 1.15)" text-anchor="end">0.2</text>
<text transform="translate(358.6 462.6) scale(1 1.15)" text-anchor="end">0.4</text>
<text transform="translate(358.6 427.1) scale(1 1.15)" text-anchor="end">0.6</text>
<text transform="translate(358.6 391.5) scale(1 1.15)" text-anchor="end">0.8</text>
<text transform="translate(358.6 355.9) scale(1 1.15)" text-anchor="end">1.0</text>
</g>
<path d="M379.7 531.6L381.6 536.3L382.1 529.8L382.6 526.2L383 520.1L383.5 515.6L383.6 510.2L383.8 504.3L383.9 495.5L384.1 489.3L384.2 487.5L384.4 479.8L384.9 484.2L385.4 489.7L385.9 496.7L386.5 493.5L387.2 485.4L387.9 477.8L388.6 470.4L388.9 466.2L389.1 458.4L389.4 453.3L389.6 444.9L389.9 441.4L390.1 436.7L390.4 428.9L391 434L391.7 440.2L392.3 444L392.8 451.5L393.3 455L393.8 463.8L394.2 459.6L394.6 453.2L395.1 446.2L395.5 439.3L395.9 437.9L396.4 430.4L396.8 426.1L397.2 419.5L397.7 427.1L398.3 431.9L398.8 438.6L399.4 441.6L399.9 447.8L400.6 441.8L401.4 432.7L402.1 427.2L402.8 424.5L403.5 419.1L404.2 412L404.7 415.1L405.2 420.3L405.7 425.8L406.2 434.6L406.7 437.4L407.2 431.9L407.8 427.7L408.3 420.9L408.8 416.7L409.4 410.9L409.9 406.3L410.4 411.5L410.8 418.7L411.3 424.6L411.8 432.2L412.2 437L412.7 442.1L413 450.5L413.3 456.4L413.6 460.9L414.2 458L414.9 451.1L415.5 444.9L416.1 448.3L416.6 456.9L417.2 462.5L417.7 467.3L418.3 470.4L418.6 476.8L418.9 483.5L419.2 487L419.5 496.1L419.8 500.5L420.1 506.5L420.5 510.8L420.8 517.5L421.3 509.5L421.7 507.6L422.2 502.5L422.7 492.2L423.1 489.9L423.6 482.6L423.9 487.7L424.2 491.9L424.6 498.2L424.9 506.1L425.2 512.2L425.6 513.5L425.9 521.9L426.2 526.9L427.1 519L427.9 516.7L428.8 509.1L429.6 504.3L430.1 511.5L430.6 517.4L431.1 520.3L431.5 528.1L432 530L432.5 536.3L433.1 528.5L433.6 525.5L434.2 517L434.7 512.1L435.3 508L436.1 512.6L436.9 518.8L437.8 521.6L438.6 526.1L439.4 533.5L439.8 529.6L440.2 521.1L440.5 518.5L440.9 512.5L441.3 504.1L441.7 498.8L442 493.3L442.4 488.2L442.8 481.7L445.6 477.9L445.9 473.1L446.2 467.7L446.6 462.8L446.9 459.2L447.2 451.8L447.5 446.2L447.9 442.4L448.2 434.7L448.5 430.8L449.2 435L449.9 443.5L450.6 446.4L451.3 451.5L451.9 446.4L452.6 438.4L453.2 435.1L453.8 430.6L454.5 422.4L455.1 419.5L455.8 425.3L456.5 430.5L457.2 432.8L457.9 440.2L458.7 435.4L459.4 429.1L460.2 424.7L460.9 417.6L461.7 412.9L462.3 419.8L462.9 425.8L463.5 428.1L464.1 436.4L464.7 428.7L465.2 426.4L465.8 422.3L466.3 413.3L466.9 409.1L467.2 414.4L467.6 420.6L467.9 424.8L468.2 430.5L468.5 435.8L468.9 441.6L469.2 447.8L470.8 452.6L472.3 455.5L473.9 460.9L474.3 465.5L474.7 472.7L475.2 474.2L475.6 482.2L476 488.2L476.4 491.4L476.9 496.1L477.3 504.3L477.7 508L478.2 501.2L478.7 495.5L479.1 491.3L479.6 487.2L480.1 480.7L480.7 484L481.3 490.3L481.9 495.6L482.5 503.4L483.1 506.7L483.7 514L484.3 517.5L485 510.9L485.7 506.8L486.4 503.4L487.1 497.7L487.9 505.5L488.6 509.1L489.4 513.8L490.1 519.2L490.9 526.9L491.3 521.2L491.6 513.6L492 509.3L493.7 513.4L494.4 520.4L495 526L495.7 529.7L496.3 523L496.9 518.4L497.6 515.9L498.2 509.3L498.5 504.2L498.9 499.3L499.2 491.2L499.5 484.3L499.9 479.3L500.2 474.6L501.8 469.5L503.3 478.7L503.6 474.9L504 467.1L504.3 462.3L504.6 457.4L505 452.2L505.3 446.9L505.6 444.2L506 435.2L506.3 431.7L506.8 434.5L507.3 444.6L507.8 449.6L508.3 455.4L508.8 458.3L509.2 452.7L509.5 450L509.9 444.7L510.3 435.9L510.7 433.2L511 428.4L511.4 421.5L512.8 416.2L514.1 409.3L514.3 415.2L514.6 419.8L514.8 425.9L515 431.1L515.3 436.1L515.5 444L516 438.8L516.5 431.6L517 428.5L517.5 419L518 417.6L518.5 410.9L519 404.2L519.6 411.6L520.3 416.8L520.9 422.1L521.6 425.8L522.2 430.7L522.9 422.7L523.7 420.7L524.4 412.3L525.1 408.3L525.4 412.9L525.7 420.2L526 425.1L526.3 430.1L526.6 438.3L526.9 442.2L527.2 446.4L527.5 451.5L527.8 458.3L528.8 465.2L529.8 468.5L531.8 464.4L532.2 469.5L532.6 476.3L533 479.3L533.3 483.8L533.7 490.7L534.1 497.3L534.5 499.3L534.9 506.2L535.3 502L535.7 496.9L536.1 490.6L536.5 485L536.9 477.7L537.4 480.4L537.8 488.8L538.3 495.1L538.7 496.3L539.2 502.6L539.6 507.8L540.1 514.3L540.5 519L541 524.6L541.8 519.4L542.5 515.8L543.3 506.8L544.1 504.2L544.4 507.2L544.8 512.9L545.1 518.1L545.4 523.1L545.8 532.9L546.1 535.8L546.8 532.6L547.5 523.9L548.2 521L548.8 515.1L549.5 510.2L550.2 506.2L550.6 511.2L551 518.4L551.4 523.8L551.8 528.4L552.2 534.8L552.6 527.6L552.9 522.6L553.3 516L553.7 512.5L554.1 507.6L554.4 500.3L554.8 493.1L555.2 488L555.6 483.3L555.9 478.8L556.3 472.6L557.3 479.1L558.4 482.8L558.9 476.8L559.4 473.4L559.9 467.1L560.4 460.7L560.9 454.9L561.4 450.1L563.5 445L565 450.6L566.5 456.2L566.7 451.9L567 445.2L567.2 441.2L567.4 434.7L567.7 428.3L567.9 424.4L568.1 419.9L568.4 411.5L568.6 408.3L569 413.5L569.4 419.2L569.7 427L570.1 432.9L570.5 435.7L570.9 444L571.2 449L571.6 453.2L572 446.5L572.4 442L572.8 434.9L573.2 432.8L573.5 426.6L573.9 422.2L574.3 416.2L574.7 409.3L575.1 415.5L575.6 421.2L576 425.7L576.5 428.7L576.9 436.5L577.3 438.9L577.8 445L578.2 452.1L578.7 447.8L579.1 438.5L579.6 433L580 427.4L580.5 425.6L580.9 416.4L581.4 412.3L581.7 415.4L582 424.9L582.3 426.8L582.6 435.8L582.9 440.4L583.1 446.7L583.4 452.7L583.7 456.3L584 462.8L584.3 464.5L584.6 473.6L584.9 477.7L585.7 471.9L586.5 467L587.2 458.1L588 454.2L588.2 461.1L588.5 467.6L588.8 468.8L589 475.8L589.2 482.6L589.5 489.5L589.8 492.2L590 497.5L590.2 503.4L590.5 510.9L590.8 517.2L591 521.5L591.3 515.6L591.7 510.2L592 505L592.4 499.5L592.7 494.5L593.1 487.5L593.4 484.2L593.8 481.3L594.1 473.6L594.4 478.7L594.6 486L594.9 488.6L595.2 496.8L595.5 502.7L595.7 507.9L596 512.6L596.3 518L596.6 524.4L596.8 531.2L597.1 534.8L597.6 527.9L598.1 522.6L598.6 520.7L599.2 516.5L599.7 509.4L600.2 503.9L600.7 500.2L601.2 494L601.5 498.3L601.8 504.5L602.1 510L602.4 517.7L602.7 522.2L603 527.6L603.3 534.8L604 529.6L604.8 524.8L605.5 515.4L606.3 510.3L607.3 516.9L608.4 521.5L608.9 516L609.4 511.3L610.4 517.7L611.4 520.5" fill="none" stroke="#6e640c" stroke-width="2.2" stroke-linejoin="round"/>
<text transform="translate(568.6 357.1) scale(1 1.1)" font-size="10.8" font-weight="bold" fill="#f00">500 Hz</text>
<text transform="translate(332.9 429) rotate(-90)" text-anchor="middle" font-size="15.05" font-weight="bold" fill="#000">Normalized Photocurrent</text>
<text transform="translate(494.3 585.3) scale(1 1.1)" text-anchor="middle" font-size="13.8" font-weight="bold" fill="#000">Time (ms)</text>
<defs>
<linearGradient id="gband" x1="0" y1="0" x2="0" y2="1">
<stop offset="0" stop-color="#a8d890" stop-opacity="0"/>
<stop offset="0.25" stop-color="#a8d890" stop-opacity="0.1"/>
<stop offset="0.6" stop-color="#98d07c" stop-opacity="0.3"/>
<stop offset="1" stop-color="#88c46c" stop-opacity="0.8"/>
</linearGradient>
<filter id="fblur" x="-50%" y="-10%" width="200%" height="120%"><feGaussianBlur stdDeviation="1.6"/></filter>
<radialGradient id="ball" cx="0.36" cy="0.34" r="0.7">
<stop offset="0" stop-color="#fffcf0"/>
<stop offset="0.18" stop-color="#bcaa78"/>
<stop offset="0.45" stop-color="#7a6628"/>
<stop offset="1" stop-color="#58440e"/>
</radialGradient>
</defs>
<g filter="url(#fblur)"><rect x="109.5" y="645" width="21.5" height="184.5" fill="url(#gband)"/><rect x="226.5" y="645" width="21.5" height="184.5" fill="url(#gband)"/></g>
<g stroke="#222" stroke-width="1.2" fill="none" stroke-linecap="square">
<path d="M50.3 611.7H308.2V837.3H50.3Z"/>
<path stroke-linecap="butt" d="M64.5 837.3v4M64.5 611.7v4M99.3 837.3v4M99.3 611.7v4M134.1 837.3v4M134.1 611.7v4M168.9 837.3v4M168.9 611.7v4M203.8 837.3v4M203.8 611.7v4M238.6 837.3v4M238.6 611.7v4M273.4 837.3v4M273.4 611.7v4M308.2 837.3v4M308.2 611.7v4M81.9 837.3v2.3M81.9 611.7v2.3M116.7 837.3v2.3M116.7 611.7v2.3M151.5 837.3v2.3M151.5 611.7v2.3M186.4 837.3v2.3M186.4 611.7v2.3M221.2 837.3v2.3M221.2 611.7v2.3M256 837.3v2.3M256 611.7v2.3M290.8 837.3v2.3M290.8 611.7v2.3M50.3 812.2h-4M308.2 812.2h-4M50.3 762.1h-4M308.2 762.1h-4M50.3 712h-4M308.2 712h-4M50.3 661.8h-4M308.2 661.8h-4M50.3 611.7h-4M308.2 611.7h-4M50.3 837.3h-2.3M308.2 837.3h-2.3M50.3 787.1h-2.3M308.2 787.1h-2.3M50.3 737h-2.3M308.2 737h-2.3M50.3 686.9h-2.3M308.2 686.9h-2.3M50.3 636.8h-2.3M308.2 636.8h-2.3"/>
</g>
<g font-size="9.5" fill="#222">
<text transform="translate(64.5 852.7) scale(1 1.15)" text-anchor="middle">0.0</text>
<text transform="translate(99.3 852.7) scale(1 1.15)" text-anchor="middle">0.5</text>
<text transform="translate(134.1 852.7) scale(1 1.15)" text-anchor="middle">1.0</text>
<text transform="translate(168.9 852.7) scale(1 1.15)" text-anchor="middle">1.5</text>
<text transform="translate(203.8 852.7) scale(1 1.15)" text-anchor="middle">2.0</text>
<text transform="translate(238.6 852.7) scale(1 1.15)" text-anchor="middle">2.5</text>
<text transform="translate(273.4 852.7) scale(1 1.15)" text-anchor="middle">3.0</text>
<text transform="translate(308.2 852.7) scale(1 1.15)" text-anchor="middle">3.5</text>
<text transform="translate(43.6 815.7) scale(1 1.15)" text-anchor="end">0.0</text>
<text transform="translate(43.6 765.6) scale(1 1.15)" text-anchor="end">0.2</text>
<text transform="translate(43.6 715.5) scale(1 1.15)" text-anchor="end">0.4</text>
<text transform="translate(43.6 665.3) scale(1 1.15)" text-anchor="end">0.6</text>
<text transform="translate(43.6 615.2) scale(1 1.15)" text-anchor="end">0.8</text>
</g>
<path d="M63.8 815L67.5 812L72.5 809.5L76.2 813.8L80 811.2L85 811.2L90 812L95 816.2L100 812.5L103 801.2L106.2 787.5L109.2 775L112 760.8L114.5 743.2L117 726.8L120.5 712.5L123 698.2L125.5 687.5L128.5 679.2L130.8 672.5L133.5 665.8L135.5 660.5L138.6 653.5L142.6 651.1L146.5 650.3L149.6 647.2L152.8 642.5L155.9 638.5L159.8 634.6L163 632.6L166.9 632.6L170 634.6L173.2 634.6L177.1 634.6L180.2 633.8L183.4 630.7L186.5 630.7L189.7 632.3L192.8 632.3L195.9 632.6L199.1 631.5L203 628.3L206.9 632.3L210.1 630.7L213.2 629.1L217.1 629.1L220.4 636.9L223 651.8L225.4 673.5L228.8 699.6L231.4 717.9L234 726.2L236.6 735.9L239.2 745.8L242.6 763.6L245.2 775.8L248.3 785L252.3 790.2L255.7 796.7L259.3 802L262.7 803.3L267.9 803.3L272.4 808.5L275.8 815L281 812.4L286.2 813.2L290.7 816.3L294.1 818.9" fill="none" stroke="#6a5a20" stroke-width="1.4" stroke-dasharray="3 2"/>
<g fill="url(#ball)" stroke="#5a420e" stroke-width="0.5"><circle cx="63.8" cy="815" r="3.5"/><circle cx="67.5" cy="812" r="3.5"/><circle cx="72.5" cy="809.5" r="3.5"/><circle cx="76.2" cy="813.8" r="3.5"/><circle cx="80" cy="811.2" r="3.5"/><circle cx="85" cy="811.2" r="3.5"/><circle cx="90" cy="812" r="3.5"/><circle cx="95" cy="816.2" r="3.5"/><circle cx="100" cy="812.5" r="3.5"/><circle cx="103" cy="801.2" r="3.5"/><circle cx="106.2" cy="787.5" r="3.5"/><circle cx="109.2" cy="775" r="3.5"/><circle cx="112" cy="760.8" r="3.5"/><circle cx="114.5" cy="743.2" r="3.5"/><circle cx="117" cy="726.8" r="3.5"/><circle cx="120.5" cy="712.5" r="3.5"/><circle cx="123" cy="698.2" r="3.5"/><circle cx="125.5" cy="687.5" r="3.5"/><circle cx="128.5" cy="679.2" r="3.5"/><circle cx="130.8" cy="672.5" r="3.5"/><circle cx="133.5" cy="665.8" r="3.5"/><circle cx="135.5" cy="660.5" r="3.5"/><circle cx="138.6" cy="653.5" r="3.5"/><circle cx="142.6" cy="651.1" r="3.5"/><circle cx="146.5" cy="650.3" r="3.5"/><circle cx="149.6" cy="647.2" r="3.5"/><circle cx="152.8" cy="642.5" r="3.5"/><circle cx="155.9" cy="638.5" r="3.5"/><circle cx="159.8" cy="634.6" r="3.5"/><circle cx="163" cy="632.6" r="3.5"/><circle cx="166.9" cy="632.6" r="3.5"/><circle cx="170" cy="634.6" r="3.5"/><circle cx="173.2" cy="634.6" r="3.5"/><circle cx="177.1" cy="634.6" r="3.5"/><circle cx="180.2" cy="633.8" r="3.5"/><circle cx="183.4" cy="630.7" r="3.5"/><circle cx="186.5" cy="630.7" r="3.5"/><circle cx="189.7" cy="632.3" r="3.5"/><circle cx="192.8" cy="632.3" r="3.5"/><circle cx="195.9" cy="632.6" r="3.5"/><circle cx="199.1" cy="631.5" r="3.5"/><circle cx="203" cy="628.3" r="3.5"/><circle cx="206.9" cy="632.3" r="3.5"/><circle cx="210.1" cy="630.7" r="3.5"/><circle cx="213.2" cy="629.1" r="3.5"/><circle cx="217.1" cy="629.1" r="3.5"/><circle cx="220.4" cy="636.9" r="3.5"/><circle cx="223" cy="651.8" r="3.5"/><circle cx="225.4" cy="673.5" r="3.5"/><circle cx="228.8" cy="699.6" r="3.5"/><circle cx="231.4" cy="717.9" r="3.5"/><circle cx="234" cy="726.2" r="3.5"/><circle cx="236.6" cy="735.9" r="3.5"/><circle cx="239.2" cy="745.8" r="3.5"/><circle cx="242.6" cy="763.6" r="3.5"/><circle cx="245.2" cy="775.8" r="3.5"/><circle cx="248.3" cy="785" r="3.5"/><circle cx="252.3" cy="790.2" r="3.5"/><circle cx="255.7" cy="796.7" r="3.5"/><circle cx="259.3" cy="802" r="3.5"/><circle cx="262.7" cy="803.3" r="3.5"/><circle cx="267.9" cy="803.3" r="3.5"/><circle cx="272.4" cy="808.5" r="3.5"/><circle cx="275.8" cy="815" r="3.5"/><circle cx="281" cy="812.4" r="3.5"/><circle cx="286.2" cy="813.2" r="3.5"/><circle cx="290.7" cy="816.3" r="3.5"/><circle cx="294.1" cy="818.9" r="3.5"/></g>
<text transform="translate(262.5 633.7) scale(1 1.12)" font-size="11.8" font-weight="bold" fill="#f00">300 Hz</text>
<g fill="#f0141c" font-size="13">
<text transform="translate(61 686.5) scale(1 1.1)">t<tspan font-size="9.8" dy="2.6">rise</tspan><tspan dy="-2.6"> =</tspan></text>
<text transform="translate(61 700.8) scale(1 1.1)">496</text><text transform="translate(61 715) scale(1 1.1)">µS</text>
<text transform="translate(270.5 708) scale(1 1.1)">t<tspan font-size="9.8" dy="2.6">fall</tspan><tspan dy="-2.6"> =</tspan></text>
<text transform="translate(270.5 720.8) scale(0.93 1.1)">515 µS</text>
</g>
<g stroke="#f0141c" stroke-width="2.2" fill="#f0141c"><path d="M120 683.2H104"/><path d="M97 683.2l8.5-4v8z" stroke="none"/>
<path d="M240 715.1H255"/><path d="M263 715.1l-8.5-4.2v8.4z" stroke="none"/></g>
<text transform="translate(17.9 715.5) rotate(-90)" text-anchor="middle" font-size="14.89" font-weight="bold" fill="#000">Normalized Photocurrent</text>
<text transform="translate(179.5 874.6) scale(1 1.1)" text-anchor="middle" font-size="13.8" font-weight="bold" fill="#000">Time (ms)</text>
<g stroke="#555" stroke-width="1.4" fill="none" stroke-linecap="square">
<path d="M366 610.7H623.3V834.8H366Z"/>
<path stroke-linecap="butt" d="M365.8 834.8v4M400 834.8v4M434.2 834.8v4M468.4 834.8v4M533.8 834.8v4M563 834.8v4M592.2 834.8v4M621.4 834.8v4M366 816.3h-4M366 778.9h-4M366 741.4h-4M366 704h-4M366 666.5h-4M366 629.1h-4M366 835h-2.3M366 797.6h-2.3M366 760.1h-2.3M366 722.7h-2.3M366 685.3h-2.3M366 647.8h-2.3"/>
</g>
<g font-size="9.5" fill="#222">
<text transform="translate(359.2 819.8) scale(1 1.15)" text-anchor="end">0.0</text>
<text transform="translate(359.2 782.4) scale(1 1.15)" text-anchor="end">0.2</text>
<text transform="translate(359.2 744.9) scale(1 1.15)" text-anchor="end">0.4</text>
<text transform="translate(359.2 707.5) scale(1 1.15)" text-anchor="end">0.6</text>
<text transform="translate(359.2 670) scale(1 1.15)" text-anchor="end">0.8</text>
<text transform="translate(359.2 632.6) scale(1 1.15)" text-anchor="end">1.0</text>
</g>
<g font-size="11.5" fill="#222">
<text transform="translate(365.8 850.6) scale(1 1.1)" text-anchor="middle">0</text>
<text transform="translate(400 850.6) scale(1 1.1)" text-anchor="middle">2</text>
<text transform="translate(434.2 850.6) scale(1 1.1)" text-anchor="middle">4</text>
<text transform="translate(468.4 850.6) scale(1 1.1)" text-anchor="middle">6</text>
<text transform="translate(533.8 850.6) scale(1 1.1)" text-anchor="middle">4994</text>
<text transform="translate(563 850.6) scale(1 1.1)" text-anchor="middle">4996</text>
<text transform="translate(592.2 850.6) scale(1 1.1)" text-anchor="middle">4998</text>
<text transform="translate(621.4 850.6) scale(1 1.1)" text-anchor="middle">5000</text>
</g>
<g><rect x="500.8" y="606" width="6" height="10" fill="#fff"/><rect x="500.8" y="830" width="6" height="10" fill="#fff"/>
<path d="M499.4 614.6L503.7 606.4M503.9 614.6L508.6 606.4M499.4 838.8L503.7 830.6M503.9 838.8L508.6 830.6" stroke="#333" stroke-width="1.2"/></g>
<path d="M366.6 823L366.9 809L367.3 820L367.8 812L368.7 812L369.1 760L369.3 680L369.7 642L370 632.5L370.8 626L371.7 634.2L372.5 628.3L373.5 635.5L374.5 624.2L375.4 631.1L376.3 626.9L377 637.8L377.4 640.6L377.5 645L377.8 700L378.2 780L378.5 806L378.6 808.2L379.5 817.8L380.4 809.9L381.3 820.2L382.2 811.1L383.1 823.2L384 810.5L384.8 817.2L385.5 809.3L386.3 814L386.7 812L387.1 760L387.3 680L387.7 642L388 633.7L388.8 626.1L389.7 631.6L390.5 627.7L391.5 633.1L392.5 623L393.4 631.5L394.3 625L395 637.5L395.4 638.8L395.5 645L395.8 700L396.2 780L396.5 806L396.6 806.1L397.5 820.4L398.4 811.1L399.3 820.4L400.2 812.4L401.1 823.1L402 812.5L402.8 817.1L403.5 811.3L404.3 814L404.7 812L405.1 760L405.3 680L405.7 642L406 632.8L406.8 626.9L407.7 634.6L408.5 625.7L409.5 633.9L410.5 621.2L411.4 631.6L412.3 625.3L413 635.2L413.4 640.4L413.5 645L413.8 700L414.2 780L414.5 806L414.6 805.5L415.5 819.5L416.4 809.5L417.3 820.4L418.2 812L419.1 822.9L420 811.4L420.8 817.9L421.5 810.6L422.3 814L422.7 812L423.1 760L423.3 680L423.7 642L424 630.2L424.8 626.9L425.7 631.1L426.5 627.5L427.5 635.9L428.5 620.6L429.4 634.2L430.3 626.5L431 636.3L431.4 638L431.5 645L431.8 700L432.2 780L432.5 806L432.6 805.6L433.5 818L434.4 811.4L435.3 820.1L436.2 811.8L437.1 824.3L438 813.3L438.8 817.5L439.5 809.6L440.3 814L440.7 812L441.1 760L441.3 680L441.7 642L442 632.1L442.8 626.1L443.7 631.4L444.5 627.5L445.5 635.7L446.5 623.9L447.4 631.1L448.3 628.8L449 634.4L449.4 639.4L449.5 645L449.8 700L450.2 780L450.5 806L450.6 807.3L451.5 820.3L452.4 809.5L453.3 822.3L454.2 811.1L455.1 822.4L456 811.5L456.8 817L457.5 808.7L458.3 814L458.7 812L459.1 760L459.3 680L459.7 642L460 630.6L460.8 625.8L461.7 635L462.5 625.1L463.5 632.7L464.5 624.4L465.4 633.1L466.3 626.6L467 634.9L467.4 640.4L467.5 645L467.8 700L468.2 780L468.5 806L468.6 808L469.5 818.9L470.4 809.8L471.3 819.7L472.2 812.2L473.1 821.6L474 812L474.8 819L475.5 808.9L476.3 814L476.7 812L477.1 760L477.3 680L477.7 642L478 632.9L478.8 626.8L479.7 633.5L480.5 627.7L481.5 632.9L482.5 622.2L483.4 631.6L484.3 628.4L485 635.2L485.4 639.8L485.5 645L485.8 700L486.2 780L486.5 806L486.6 808.5L487.5 820.1L488.4 811.4L489.3 820.9L490.2 811L491.1 823.7L492 811.9L492.8 817.4L493.5 809.7L494.3 814L494.7 812L495.1 760L495.5 680L496 642L496.6 634L497.4 628L498.2 633L499 626L499.8 620L500.6 630L501.3 624" fill="none" stroke="#000" stroke-width="1.35" stroke-linejoin="round"/>
<path d="M506.8 623.5L506.8 640L507.1 700L507.6 780L508.2 806L508.9 805.9L509.8 818.6L510.6 811.5L511.4 822.4L512.3 811.4L513.1 823L514 811.5L514.9 816.8L515.7 809.3L516.5 812L516.9 760L517.1 680L517.5 642L517.8 633.1L518.6 626.5L519.5 632.4L520.3 627.6L521.3 635.6L522.3 623.3L523.2 633.7L524.1 628L524.8 635.5L525.2 640.8L525.3 645L525.6 700L526 780L526.3 806L526.4 806.3L527.3 819L528.2 810.8L529.1 821.6L530 810.4L530.9 824.3L531.8 812.4L532.6 818.2L533.3 808.5L534.1 814L534.6 812L535 760L535.2 680L535.6 642L535.9 632.2L536.7 624L537.6 633.7L538.4 626.4L539.4 635.8L540.4 623.1L541.3 634.2L542.2 626.4L542.9 636.6L543.3 641L543.4 645L543.7 700L544.1 780L544.4 806L544.5 808L545.4 818.6L546.3 811L547.2 822.1L548.1 811.6L549 824.4L549.9 813.4L550.7 818.1L551.4 810.1L552.2 814L552.7 812L553.1 760L553.4 680L553.7 642L554 630.7L554.8 626.3L555.7 634.7L556.5 626.4L557.5 635.3L558.5 623.4L559.4 633.9L560.3 625.7L561 637.1L561.4 640.3L561.5 645L561.8 700L562.2 780L562.5 806L562.6 807.5L563.5 818.8L564.4 810.4L565.3 821.8L566.2 811.4L567.1 823.7L568 810.6L568.8 817L569.5 809.8L570.3 814L570.8 812L571.1 760L571.4 680L571.8 642L572.1 632.6L572.9 623.9L573.8 633.7L574.6 627L575.6 632.7L576.6 622.4L577.5 631.9L578.4 625.2L579.1 634.5L579.5 639.3L579.6 645L579.9 700L580.3 780L580.6 806L580.7 806L581.6 818.1L582.5 808.6L583.4 820.9L584.3 810.6L585.2 823.3L586.1 812.3L586.9 817.2L587.6 811.2L588.4 814L588.9 812L589.2 760L589.5 680L589.9 642L590.2 630L591 624.6L591.9 632.1L592.7 626.1L593.7 633L594.7 623.8L595.6 632.5L596.5 625.1L597.2 636.5L597.6 638.4L597.7 645L598 700L598.4 780L598.7 806L598.8 807.1L599.7 818.5L600.6 810.2L601.5 822.4L602.4 812L603.3 822.8L604.2 812.9L605 818.4L605.7 809.6L606.5 814L607 812L607.4 760L607.6 680L608 642L608.3 630.6L609.1 625.4L610 633.3L610.8 628.3L611.8 636.4L612.8 622.9L613.7 632.4L614.6 628.6L615.3 634L615.7 638.4L615.8 645L616.1 700L616.5 780L616.8 806L616.9 807.2L617.8 819.3L618.7 808.9L619.6 821.4L620.5 812.2L621.4 822.6L622.3 811.8L623.1 817.2L623.8 809.4L624.6 814" fill="none" stroke="#000" stroke-width="1.35" stroke-linejoin="round"/>
<text transform="translate(332 713.3) rotate(-90)" text-anchor="middle" font-size="15.08" font-weight="bold" fill="#000">Normalized Photocurrent</text>
<text transform="translate(494.6 871.4) scale(1 1.1)" text-anchor="middle" font-size="13.9" font-weight="bold" fill="#000">Number of Cycles</text>
</svg>
</body></html>
